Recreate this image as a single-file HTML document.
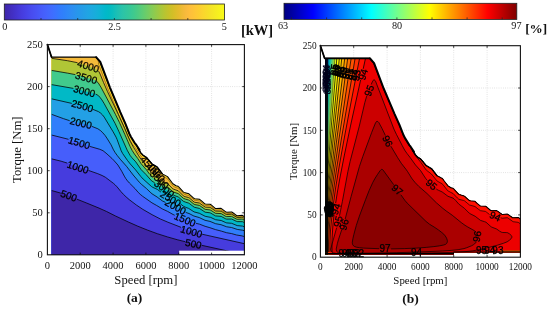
<!DOCTYPE html>
<html lang="en"><head><meta charset="utf-8"><title>Loss and efficiency maps</title>
<style>html,body{margin:0;padding:0;background:#fff}svg{display:block}</style></head>
<body>
<svg width="550" height="310" viewBox="0 0 550 310">
<defs>
<linearGradient id="gp" x1="0" x2="1" y1="0" y2="0"><stop offset="0.0000" stop-color="#3E26A8"/><stop offset="0.0159" stop-color="#402AB4"/><stop offset="0.0317" stop-color="#422EC0"/><stop offset="0.0476" stop-color="#4332CB"/><stop offset="0.0635" stop-color="#4537D5"/><stop offset="0.0794" stop-color="#463CDE"/><stop offset="0.0952" stop-color="#4741E5"/><stop offset="0.1111" stop-color="#4747EB"/><stop offset="0.1270" stop-color="#484DF0"/><stop offset="0.1429" stop-color="#4852F4"/><stop offset="0.1587" stop-color="#4758F8"/><stop offset="0.1746" stop-color="#465EFB"/><stop offset="0.1905" stop-color="#4563FD"/><stop offset="0.2063" stop-color="#4269FE"/><stop offset="0.2222" stop-color="#3E6FFF"/><stop offset="0.2381" stop-color="#3875FE"/><stop offset="0.2540" stop-color="#327CFC"/><stop offset="0.2698" stop-color="#2F81FA"/><stop offset="0.2857" stop-color="#2E87F7"/><stop offset="0.3016" stop-color="#2D8CF3"/><stop offset="0.3175" stop-color="#2B91EF"/><stop offset="0.3333" stop-color="#2797EB"/><stop offset="0.3492" stop-color="#259BE8"/><stop offset="0.3651" stop-color="#23A0E5"/><stop offset="0.3810" stop-color="#20A5E3"/><stop offset="0.3968" stop-color="#1CA9DF"/><stop offset="0.4127" stop-color="#18ADDB"/><stop offset="0.4286" stop-color="#12B1D6"/><stop offset="0.4444" stop-color="#08B5D0"/><stop offset="0.4603" stop-color="#01B8CA"/><stop offset="0.4762" stop-color="#02BAC3"/><stop offset="0.4921" stop-color="#0BBDBD"/><stop offset="0.5079" stop-color="#19BFB6"/><stop offset="0.5238" stop-color="#24C1AE"/><stop offset="0.5397" stop-color="#2CC4A7"/><stop offset="0.5556" stop-color="#31C69F"/><stop offset="0.5714" stop-color="#37C897"/><stop offset="0.5873" stop-color="#3FCA8E"/><stop offset="0.6032" stop-color="#4ACB84"/><stop offset="0.6190" stop-color="#57CC7A"/><stop offset="0.6349" stop-color="#64CD6F"/><stop offset="0.6508" stop-color="#72CD64"/><stop offset="0.6667" stop-color="#81CC59"/><stop offset="0.6825" stop-color="#8FCB4E"/><stop offset="0.6984" stop-color="#9DC943"/><stop offset="0.7143" stop-color="#ABC739"/><stop offset="0.7302" stop-color="#B9C431"/><stop offset="0.7460" stop-color="#C5C22A"/><stop offset="0.7619" stop-color="#D1BF27"/><stop offset="0.7778" stop-color="#DCBD29"/><stop offset="0.7937" stop-color="#E6BB2D"/><stop offset="0.8095" stop-color="#F0BA36"/><stop offset="0.8254" stop-color="#F8BA3D"/><stop offset="0.8413" stop-color="#FEBE3C"/><stop offset="0.8571" stop-color="#FEC338"/><stop offset="0.8730" stop-color="#FEC934"/><stop offset="0.8889" stop-color="#FCCF30"/><stop offset="0.9048" stop-color="#FAD62D"/><stop offset="0.9206" stop-color="#F7DC2A"/><stop offset="0.9365" stop-color="#F5E327"/><stop offset="0.9524" stop-color="#F5E924"/><stop offset="0.9683" stop-color="#F6EF20"/><stop offset="0.9841" stop-color="#F7F51B"/><stop offset="1.0000" stop-color="#F9FB15"/></linearGradient>
<linearGradient id="gj" x1="0" x2="1" y1="0" y2="0"><stop offset="0.0000" stop-color="#000080"/><stop offset="0.0312" stop-color="#00009F"/><stop offset="0.0625" stop-color="#0000BF"/><stop offset="0.0938" stop-color="#0000DF"/><stop offset="0.1250" stop-color="#0000FF"/><stop offset="0.1562" stop-color="#0020FF"/><stop offset="0.1875" stop-color="#0040FF"/><stop offset="0.2188" stop-color="#0060FF"/><stop offset="0.2500" stop-color="#0080FF"/><stop offset="0.2812" stop-color="#009FFF"/><stop offset="0.3125" stop-color="#00BFFF"/><stop offset="0.3438" stop-color="#00DFFF"/><stop offset="0.3750" stop-color="#00FFFF"/><stop offset="0.4062" stop-color="#20FFDF"/><stop offset="0.4375" stop-color="#40FFBF"/><stop offset="0.4688" stop-color="#60FF9F"/><stop offset="0.5000" stop-color="#80FF80"/><stop offset="0.5312" stop-color="#9FFF60"/><stop offset="0.5625" stop-color="#BFFF40"/><stop offset="0.5938" stop-color="#DFFF20"/><stop offset="0.6250" stop-color="#FFFF00"/><stop offset="0.6562" stop-color="#FFDF00"/><stop offset="0.6875" stop-color="#FFBF00"/><stop offset="0.7188" stop-color="#FF9F00"/><stop offset="0.7500" stop-color="#FF8000"/><stop offset="0.7812" stop-color="#FF6000"/><stop offset="0.8125" stop-color="#FF4000"/><stop offset="0.8438" stop-color="#FF2000"/><stop offset="0.8750" stop-color="#FF0000"/><stop offset="0.9062" stop-color="#DF0000"/><stop offset="0.9375" stop-color="#BF0000"/><stop offset="0.9688" stop-color="#9F0000"/><stop offset="1.0000" stop-color="#800000"/></linearGradient>
</defs>
<rect width="550" height="310" fill="#fff"/>
<rect x="4.3" y="4" width="220.2" height="16" fill="url(#gp)" stroke="#222" stroke-width="0.8"/>
<path d="M41.0 20 v-2" stroke="#222" stroke-width="0.7"/>
<path d="M77.7 20 v-2" stroke="#222" stroke-width="0.7"/>
<path d="M114.4 20 v-2" stroke="#222" stroke-width="0.7"/>
<path d="M151.1 20 v-2" stroke="#222" stroke-width="0.7"/>
<path d="M187.8 20 v-2" stroke="#222" stroke-width="0.7"/>
<rect x="284" y="3.3" width="232.8" height="16.1" fill="url(#gj)" stroke="#222" stroke-width="0.8"/>
<path d="M291.5 19.4 v-2" stroke="#222" stroke-width="0.7"/>
<path d="M326.6 19.4 v-2" stroke="#222" stroke-width="0.7"/>
<path d="M361.7 19.4 v-2" stroke="#222" stroke-width="0.7"/>
<path d="M396.9 19.4 v-2" stroke="#222" stroke-width="0.7"/>
<path d="M432.0 19.4 v-2" stroke="#222" stroke-width="0.7"/>
<path d="M467.1 19.4 v-2" stroke="#222" stroke-width="0.7"/>
<path d="M502.2 19.4 v-2" stroke="#222" stroke-width="0.7"/>
<g font-family="'Liberation Serif', serif" fill="#111">
<text x="4.8" y="30.4" font-size="10.2" text-anchor="middle">0</text>
<text x="114.5" y="30.4" font-size="10.2" text-anchor="middle">2.5</text>
<text x="224.3" y="30.4" font-size="10.2" text-anchor="middle">5</text>
<text x="257" y="35.3" font-size="14.5" font-weight="bold" text-anchor="middle">[kW]</text>
<text x="283" y="29.2" font-size="10.2" text-anchor="middle">63</text>
<text x="397" y="29.2" font-size="10.2" text-anchor="middle">80</text>
<text x="516.4" y="28.6" font-size="10.2" text-anchor="middle">97</text>
<text x="536.2" y="32.8" font-size="13.2" font-weight="bold" text-anchor="middle">[%]</text>
<text x="134.5" y="302.3" font-size="13.5" font-weight="bold" text-anchor="middle">(a)</text>
<text x="410.5" y="302.8" font-size="13.5" font-weight="bold" text-anchor="middle">(b)</text>
</g>
<g fill="none" stroke="#cfcfcf" stroke-width="0.7" stroke-dasharray="0.8 1.4">
<path d="M80.2 44.6 V254.8"/>
<path d="M113.1 44.6 V254.8"/>
<path d="M145.9 44.6 V254.8"/>
<path d="M178.7 44.6 V254.8"/>
<path d="M211.6 44.6 V254.8"/>
<path d="M47.4 212.8 H244.4"/>
<path d="M47.4 170.7 H244.4"/>
<path d="M47.4 128.7 H244.4"/>
<path d="M47.4 86.6 H244.4"/>
<path d="M353.7 45.7 V257.2"/>
<path d="M387.1 45.7 V257.2"/>
<path d="M420.4 45.7 V257.2"/>
<path d="M453.7 45.7 V257.2"/>
<path d="M487.1 45.7 V257.2"/>
<path d="M320.4 214.9 H520.4"/>
<path d="M320.4 172.6 H520.4"/>
<path d="M320.4 130.3 H520.4"/>
<path d="M320.4 88.0 H520.4"/>
</g>
<clipPath id="ca"><polygon points="51.5,57.1 51.5,57.1 52.3,57.1 53.1,57.1 53.9,57.1 54.7,57.1 55.5,57.1 56.3,57.1 57.1,57.1 57.9,57.1 58.7,57.1 59.5,57.1 60.3,57.1 61.1,57.1 61.9,57.1 62.7,57.1 63.5,57.1 64.3,57.1 65.1,57.1 65.9,57.1 66.7,57.1 67.5,57.1 68.3,57.1 69.1,57.1 69.9,57.1 70.7,57.1 71.5,57.1 72.3,57.1 73.2,57.1 74.0,57.1 74.8,57.1 75.6,57.1 76.4,57.1 77.2,57.1 78.0,57.1 78.8,57.1 79.6,57.1 80.4,57.1 81.2,57.1 82.0,57.1 82.8,57.1 83.6,57.1 84.4,57.1 85.2,57.1 86.0,57.1 86.8,57.1 87.6,57.1 88.4,57.1 89.2,57.1 90.0,57.1 90.8,57.1 91.6,57.1 92.4,57.1 93.2,57.1 94.0,57.1 94.8,57.1 95.6,57.1 96.1,57.7 96.7,58.3 97.2,59.0 97.7,59.6 98.2,60.2 98.8,60.8 99.3,61.4 99.8,62.0 100.1,62.8 100.4,63.5 100.7,64.3 101.0,65.1 101.3,65.9 101.5,66.6 101.8,67.4 102.1,68.2 102.4,68.9 102.7,69.7 103.0,70.5 103.3,71.2 103.6,72.0 103.9,72.8 104.2,73.5 104.5,74.3 104.7,75.1 105.0,75.9 105.3,76.6 105.6,77.4 105.9,78.2 106.2,78.9 106.5,79.7 106.8,80.5 107.1,81.2 107.4,82.0 107.7,82.8 108.0,83.5 108.2,84.3 108.5,85.1 108.8,85.9 109.1,86.6 109.4,87.4 109.7,88.1 110.0,88.9 110.3,89.6 110.7,90.4 111.0,91.1 111.3,91.8 111.6,92.6 111.9,93.3 112.2,94.1 112.5,94.8 112.9,95.5 113.2,96.3 113.5,97.0 113.8,97.8 114.1,98.5 114.4,99.2 114.7,100.0 115.1,100.7 115.4,101.5 115.7,102.2 116.0,102.9 116.3,103.7 116.6,104.4 116.9,105.2 117.2,105.9 117.6,106.6 117.9,107.4 118.2,108.1 118.5,108.9 118.8,109.6 119.1,110.3 119.4,111.1 119.8,112.1 120.1,112.8 120.4,113.5 120.7,114.2 121.0,114.9 121.3,115.6 121.6,116.4 122.0,117.1 122.3,117.8 122.6,118.5 122.9,119.2 123.2,119.9 123.5,120.6 123.9,121.3 124.2,122.0 124.5,122.7 124.8,123.4 125.1,124.2 125.4,125.0 125.7,125.7 126.1,126.5 126.4,127.3 126.7,128.1 127.0,128.9 127.3,129.7 127.6,130.5 127.9,131.3 128.3,132.1 128.6,132.9 128.9,133.7 129.3,134.5 129.7,135.2 130.1,136.0 130.4,136.7 130.8,137.4 131.2,138.0 131.6,138.7 132.0,139.3 132.4,139.9 132.8,140.6 133.2,141.2 133.5,141.8 133.9,142.5 134.3,143.1 134.7,143.7 135.2,144.2 135.7,144.8 136.2,145.6 136.7,146.3 137.1,147.1 137.6,147.8 138.1,148.6 138.6,149.3 139.1,150.1 139.6,150.9 140.1,151.6 140.6,152.4 141.0,153.1 141.5,153.7 142.0,154.2 142.5,154.7 143.0,155.2 143.6,155.6 144.2,156.0 144.9,156.4 145.5,156.8 146.1,157.2 146.7,157.8 147.3,158.5 147.9,159.3 148.6,160.0 149.2,160.8 149.8,161.5 150.4,162.3 151.0,163.1 151.7,163.8 152.3,164.2 152.9,164.5 153.5,164.9 154.2,165.3 154.8,165.6 155.4,166.0 156.0,166.4 156.7,166.7 157.3,167.3 157.9,168.1 158.6,168.9 159.2,169.7 159.8,170.5 160.4,171.3 161.0,172.1 161.6,172.9 162.2,173.7 162.8,174.1 163.4,174.4 164.0,174.7 164.6,175.0 165.2,175.3 165.7,175.7 166.3,176.0 166.9,176.3 167.5,176.6 168.1,177.3 168.7,178.1 169.3,178.9 169.9,179.7 170.5,180.5 171.1,181.3 171.7,182.1 172.3,182.9 172.9,183.7 173.5,184.2 174.1,184.5 174.8,184.9 175.4,185.3 176.0,185.7 176.7,185.9 177.4,186.1 178.0,186.3 178.7,186.9 179.4,187.6 180.1,188.3 180.7,189.1 181.4,189.8 182.1,190.6 182.8,191.3 183.5,192.1 184.1,192.4 184.8,192.6 185.5,192.8 186.2,193.0 186.9,193.2 187.5,193.4 188.2,193.6 188.9,193.8 189.6,194.4 190.3,195.1 191.0,195.7 191.8,196.4 192.5,197.0 193.2,197.7 193.9,198.3 194.6,198.7 195.3,198.8 196.1,198.8 196.8,198.9 197.5,199.0 198.2,199.1 198.9,199.2 199.6,199.3 200.4,199.9 201.1,200.6 201.8,201.2 202.6,201.9 203.3,202.5 204.1,203.1 204.8,203.8 205.6,203.9 206.4,204.0 207.1,204.0 207.9,204.0 208.6,204.1 209.4,204.1 210.1,204.2 210.9,204.7 211.7,205.3 212.4,206.0 213.2,206.6 213.9,207.3 214.7,207.9 215.5,208.5 216.2,208.6 217.0,208.5 217.7,208.5 218.5,208.4 219.3,208.4 220.0,208.4 220.8,208.3 221.5,208.7 222.3,209.3 223.1,209.9 223.8,210.4 224.6,211.0 225.3,211.5 226.1,212.1 226.8,212.2 227.6,212.2 228.4,212.1 229.1,212.1 229.9,212.0 230.7,212.0 231.4,211.9 232.2,212.3 232.9,212.8 233.7,213.4 234.5,213.9 235.2,214.5 236.0,215.0 236.8,215.6 237.5,215.7 238.3,215.6 239.1,215.6 239.8,215.5 240.6,215.5 241.3,215.4 242.1,215.3 242.9,215.7 243.6,216.3 244.4,216.8 244.4,254.8 51.5,254.8"/></clipPath>
<g clip-path="url(#ca)">
<rect x="40" y="40" width="215" height="220" fill="#FAD42E"/>
<polygon points="51.5,55.5 52.4,55.5 53.4,55.5 54.3,55.5 55.2,55.5 56.0,55.5 56.8,55.5 57.6,55.5 58.4,55.5 59.2,55.5 60.0,55.5 60.9,55.5 61.7,55.5 62.6,55.5 63.4,55.5 64.3,55.5 65.2,55.5 66.0,55.5 66.9,55.5 67.7,55.5 68.6,55.5 69.4,55.5 70.2,55.5 71.0,55.5 71.8,55.5 72.6,55.5 73.4,55.5 74.2,55.5 75.1,55.5 75.9,55.5 76.7,55.5 77.5,55.5 78.3,55.5 79.1,55.5 79.9,55.5 80.8,55.6 81.7,55.6 82.5,55.7 83.4,55.7 84.3,55.8 85.1,55.8 86.0,55.9 86.9,55.9 87.7,56.0 88.6,56.0 89.4,56.2 90.3,56.3 91.1,56.5 92.0,56.6 92.8,56.8 93.7,56.9 94.5,57.1 95.3,57.5 96.1,57.9 96.9,58.3 97.8,58.7 98.0,59.8 98.2,60.8 98.6,62.4 98.7,63.3 98.7,63.7 98.5,63.5 98.4,63.5 98.4,63.6 98.5,63.9 98.7,64.4 98.8,64.9 99.0,65.4 99.2,65.9 99.4,66.4 99.6,66.9 99.8,67.4 100.0,67.8 100.1,68.3 100.3,68.8 100.5,69.3 100.7,69.8 100.9,70.3 101.1,70.8 101.2,71.3 101.4,71.7 101.6,72.2 101.8,72.7 102.0,73.2 102.2,73.7 102.4,74.2 102.5,74.7 102.7,75.2 102.9,75.7 103.1,76.1 103.3,76.6 103.5,77.1 103.7,77.6 103.8,78.1 104.0,78.6 104.2,79.1 104.4,79.6 104.6,80.1 104.8,80.5 104.9,81.0 105.1,81.5 105.3,82.0 105.5,82.5 105.7,83.0 105.9,83.5 106.1,84.0 106.2,84.4 106.4,84.9 106.6,85.4 106.8,85.9 107.0,86.4 107.2,86.9 107.3,87.4 107.5,87.9 107.7,88.3 107.9,88.8 108.1,89.3 108.3,89.8 108.5,90.3 108.7,90.7 108.9,91.2 109.1,91.7 109.3,92.2 109.5,92.6 109.7,93.1 109.9,93.6 110.1,94.1 110.3,94.5 110.5,95.0 110.7,95.5 110.9,96.0 111.1,96.4 111.3,96.9 111.5,97.4 111.7,97.9 111.9,98.4 112.1,98.8 112.3,99.3 112.5,99.8 112.7,100.3 112.9,100.7 113.2,101.2 113.4,101.7 113.6,102.2 113.8,102.6 114.0,103.1 114.2,103.6 114.4,104.1 114.6,104.5 114.8,105.0 115.0,105.5 115.2,106.0 115.4,106.4 115.6,106.9 115.8,107.4 116.0,107.9 116.2,108.3 116.4,108.8 116.6,109.3 116.8,109.8 117.0,110.3 117.2,110.7 117.4,111.2 117.6,111.7 117.8,112.2 118.0,112.6 118.2,113.1 118.4,113.6 118.6,114.1 118.8,114.5 119.0,115.0 119.2,115.5 119.4,116.0 119.6,116.7 119.8,117.2 120.0,117.7 120.2,118.1 120.4,118.6 120.6,119.1 120.8,119.5 121.0,120.0 121.3,120.5 121.5,120.9 121.7,121.4 121.9,121.8 122.1,122.3 122.3,122.8 122.5,123.2 122.7,123.7 122.9,124.2 123.1,124.6 123.3,125.1 123.5,125.5 123.7,126.0 123.9,126.5 124.1,126.9 124.3,127.4 124.5,127.8 124.7,128.3 124.9,128.7 125.1,129.3 125.3,129.8 125.6,130.3 125.8,130.8 126.0,131.3 126.2,131.8 126.4,132.3 126.6,132.8 126.8,133.3 127.0,133.9 127.2,134.4 127.4,134.9 127.7,135.3 127.9,135.8 128.1,136.3 128.4,136.8 128.6,137.3 128.9,137.7 129.1,138.2 129.4,138.7 129.6,139.2 129.8,139.7 130.1,140.2 130.3,140.6 130.6,141.0 130.8,141.4 131.0,141.8 131.3,142.2 131.5,142.6 131.8,143.0 132.0,143.4 132.3,143.8 132.5,144.2 132.7,144.6 133.0,145.0 133.3,145.4 133.6,145.8 134.0,146.2 134.3,146.6 134.7,147.0 135.0,147.4 135.3,147.8 135.7,148.2 136.0,148.7 136.4,149.2 136.7,149.8 137.1,150.3 137.4,150.8 137.8,151.4 138.1,151.9 138.5,152.4 138.8,153.0 139.1,153.5 139.5,154.0 139.8,154.6 140.2,155.1 140.5,155.7 140.9,156.2 141.2,156.6 141.6,156.9 142.0,157.2 142.4,157.5 142.8,157.8 143.3,158.1 143.7,158.3 144.1,158.6 144.5,158.9 144.9,159.1 145.3,159.4 145.7,159.7 146.1,159.9 146.6,160.3 147.0,160.8 147.4,161.3 147.8,161.8 148.3,162.2 148.7,162.7 149.2,163.1 149.7,163.6 150.1,164.1 150.6,164.6 151.0,165.1 151.4,165.6 151.8,166.0 152.2,166.2 152.6,166.5 153.0,166.7 153.4,166.9 153.8,167.2 154.2,167.4 154.6,167.7 155.0,167.9 155.4,168.1 155.8,168.4 156.1,168.6 156.5,168.8 156.9,169.0 157.3,169.5 157.7,170.0 158.1,170.5 158.5,171.0 158.9,171.6 159.4,172.1 159.8,172.6 160.2,173.1 160.6,173.7 161.0,174.2 161.4,174.7 161.8,175.3 162.2,175.8 162.6,176.1 163.0,176.3 163.4,176.5 163.9,176.8 164.3,177.0 164.7,177.2 165.1,177.5 165.5,177.7 165.9,177.9 166.3,178.1 166.7,178.4 167.1,178.6 167.5,178.8 167.9,179.3 168.4,179.8 168.8,180.4 169.2,180.9 169.6,181.4 170.0,182.0 170.4,182.5 170.8,183.1 171.3,183.7 171.7,184.3 172.2,184.9 172.6,185.6 173.1,186.1 173.6,186.4 174.0,186.7 174.5,187.0 174.9,187.2 175.4,187.4 175.9,187.5 176.3,187.7 176.8,187.8 177.2,188.0 177.7,188.1 178.2,188.3 178.6,188.7 179.1,189.2 179.6,189.7 180.0,190.2 180.5,190.7 180.9,191.1 181.4,191.6 181.9,192.1 182.3,192.6 182.8,193.1 183.2,193.6 183.7,194.0 184.2,194.2 184.6,194.3 185.1,194.5 185.5,194.6 186.0,194.8 186.5,194.9 186.9,195.1 187.4,195.2 187.8,195.3 188.3,195.4 188.8,195.5 189.2,195.7 189.7,196.1 190.1,196.5 190.6,197.0 191.1,197.4 191.5,197.8 192.0,198.2 192.5,198.6 192.9,199.0 193.4,199.4 193.8,199.8 194.3,200.2 194.8,200.3 195.2,200.3 195.7,200.4 196.1,200.4 196.6,200.5 197.1,200.6 197.5,200.6 198.0,200.7 198.4,200.8 198.9,200.8 199.4,200.9 199.8,201.1 200.3,201.5 200.7,201.9 201.2,202.3 201.7,202.7 202.1,203.0 202.6,203.4 203.1,203.8 203.5,204.2 204.0,204.6 204.4,204.9 204.9,205.3 205.4,205.4 205.8,205.4 206.3,205.5 206.7,205.5 207.2,205.5 207.7,205.6 208.1,205.6 208.6,205.6 209.0,205.7 209.5,205.7 210.0,205.7 210.4,205.9 210.9,206.3 211.3,206.6 211.8,207.0 212.3,207.4 212.7,207.8 213.2,208.2 213.7,208.5 214.2,208.9 214.8,209.3 215.3,209.7 215.8,209.9 216.4,209.9 216.9,209.9 217.5,209.9 218.0,209.9 218.5,209.8 219.1,209.8 219.6,209.8 220.1,209.8 220.7,209.8 221.2,210.0 221.8,210.3 222.3,210.7 222.8,211.1 223.4,211.5 223.9,211.9 224.4,212.3 225.0,212.7 225.5,213.1 226.1,213.4 226.6,213.6 227.1,213.6 227.6,213.5 228.2,213.5 228.7,213.5 229.2,213.5 229.7,213.4 230.3,213.4 230.8,213.4 231.3,213.3 231.8,213.5 232.4,213.8 232.9,214.2 233.4,214.6 233.9,214.9 234.5,215.3 235.0,215.7 235.5,216.0 236.0,216.4 236.6,216.8 237.1,217.0 237.6,217.0 238.1,217.0 238.7,216.9 239.2,216.9 239.7,216.9 240.2,216.9 240.8,216.8 241.3,216.8 241.8,216.8 242.3,216.8 242.7,217.0 243.0,217.2 243.1,217.3 246.4,217.3 246.4,256.8 49.5,256.8 49.5,55.5" fill="#F5BA3A"/>
<polygon points="51.5,58.3 52.3,58.4 53.1,58.5 53.9,58.7 54.7,58.8 55.5,58.9 56.3,59.0 57.1,59.2 57.9,59.3 58.6,59.4 59.4,59.5 60.2,59.6 61.0,59.8 61.8,59.9 62.6,60.0 63.4,60.1 64.2,60.2 65.0,60.4 65.8,60.5 66.6,60.6 67.4,60.7 68.3,60.9 69.2,61.1 70.1,61.2 71.0,61.4 71.9,61.6 72.9,61.7 73.8,61.9 74.7,62.1 75.6,62.3 76.5,62.5 77.5,62.7 78.4,62.9 79.3,63.2 80.2,63.4 81.2,63.7 82.1,64.0 83.1,64.3 84.0,64.6 84.9,65.0 85.8,65.3 86.7,65.6 87.6,65.9 88.5,66.2 89.3,66.5 90.2,66.8 91.0,67.0 91.8,67.3 92.6,67.6 93.4,67.9 94.2,68.2 95.1,68.6 96.1,69.1 96.8,69.6 97.6,70.1 98.6,71.1 99.3,72.3 99.7,73.1 100.1,74.0 100.4,74.7 100.7,75.5 101.0,76.2 101.4,77.2 101.8,78.1 102.2,79.0 102.5,79.9 102.8,80.7 103.2,81.5 103.5,82.4 103.9,83.2 104.2,84.0 104.6,84.9 104.9,85.7 105.3,86.6 105.7,87.4 106.0,88.2 106.4,89.1 106.8,89.9 107.2,90.7 107.5,91.6 107.9,92.3 108.2,93.0 108.6,93.7 108.9,94.5 109.2,95.2 109.6,95.9 109.9,96.6 110.3,97.4 110.6,98.1 111.0,98.9 111.3,99.6 111.7,100.3 112.0,101.1 112.4,101.8 112.7,102.5 113.1,103.3 113.4,104.0 113.8,104.8 114.2,105.6 114.6,106.4 115.0,107.2 115.3,108.0 115.7,108.8 116.1,109.6 116.5,110.4 116.8,111.2 117.2,111.9 117.5,112.7 117.9,113.5 118.2,114.2 118.7,115.1 119.1,116.0 119.5,116.9 119.9,118.0 120.3,118.8 120.6,119.6 121.0,120.4 121.4,121.1 121.7,121.9 122.1,122.6 122.4,123.4 122.7,124.1 123.1,124.8 123.4,125.5 123.7,126.2 124.1,126.9 124.5,127.8 124.8,128.6 125.2,129.5 125.6,130.4 126.0,131.3 126.4,132.2 126.7,133.1 127.1,133.9 127.5,134.8 127.8,135.7 128.2,136.6 128.5,137.4 128.9,138.1 129.2,138.9 129.5,139.7 129.9,140.5 130.2,141.3 130.6,142.0 130.9,142.7 131.3,143.4 131.7,144.1 132.0,144.8 132.4,145.5 132.9,146.2 133.3,146.9 133.7,147.6 134.2,148.4 134.6,149.1 135.1,149.9 135.6,150.5 136.0,151.3 136.4,152.1 137.0,153.1 137.6,154.1 138.2,154.9 138.7,155.8 139.6,157.1 140.1,157.9 140.7,158.7 141.3,159.6 141.9,160.3 142.6,161.1 143.2,162.0 143.8,162.6 144.2,163.2 144.8,163.9 145.3,164.5 145.9,165.1 146.4,165.8 147.0,166.7 147.6,167.6 148.2,168.5 148.9,169.5 149.5,170.4 150.2,171.4 150.9,172.4 151.6,173.4 152.3,174.0 153.1,174.5 153.8,175.0 154.6,175.5 155.4,176.0 156.2,176.4 157.0,176.8 157.9,177.7 158.8,178.6 159.6,179.4 160.5,180.3 161.5,181.1 162.4,181.9 163.3,182.2 164.1,182.4 165.0,182.7 165.9,182.9 166.7,183.2 167.6,183.5 168.4,184.3 169.2,185.1 170.1,185.9 170.9,186.8 171.6,187.6 172.4,188.4 173.1,189.0 173.8,189.2 174.5,189.5 175.2,189.7 176.0,190.0 176.8,190.3 177.5,190.5 178.3,190.8 179.0,191.5 179.7,192.2 180.4,192.9 181.1,193.6 181.8,194.3 182.6,195.1 183.4,195.9 184.1,196.3 184.9,196.5 185.7,196.8 186.4,197.0 187.1,197.1 187.9,197.3 188.6,197.5 189.3,197.9 190.0,198.6 190.8,199.3 191.7,200.0 192.5,200.7 193.3,201.4 194.1,202.0 194.9,202.3 195.6,202.4 196.4,202.5 197.2,202.6 197.9,202.7 198.7,202.9 199.4,203.0 200.2,203.4 201.0,204.1 201.9,204.7 202.7,205.4 203.5,206.0 204.3,206.6 205.2,207.1 206.0,207.2 206.8,207.2 207.6,207.3 208.3,207.3 209.1,207.3 209.9,207.4 210.7,207.7 211.4,208.2 212.2,208.8 213.0,209.3 213.9,209.9 214.7,210.5 215.5,211.0 216.3,211.1 217.2,211.1 218.0,211.1 218.8,211.1 219.6,211.1 220.4,211.1 221.2,211.2 221.9,211.7 222.7,212.2 223.5,212.7 224.3,213.2 225.1,213.7 225.8,214.2 226.7,214.5 227.5,214.4 228.3,214.4 229.1,214.3 230.0,214.3 230.8,214.2 231.6,214.2 232.4,214.7 233.3,215.2 234.1,215.7 234.9,216.1 235.6,216.6 236.4,217.1 237.2,217.4 238.0,217.4 238.8,217.3 239.8,217.3 240.7,217.2 241.6,217.2 242.5,217.3 243.5,217.8 244.4,218.4 246.4,218.4 246.4,256.8 49.5,256.8 49.5,58.3" fill="#B0C636"/>
<polygon points="51.5,70.4 52.3,70.5 53.1,70.7 53.9,70.8 54.7,70.9 55.5,71.1 56.3,71.2 57.1,71.3 57.9,71.5 58.6,71.6 59.4,71.7 60.2,71.9 61.0,72.0 61.8,72.1 62.6,72.3 63.4,72.4 64.2,72.6 65.0,72.7 65.8,72.8 66.6,73.0 67.4,73.1 68.3,73.3 69.2,73.4 70.1,73.6 70.9,73.8 71.8,73.9 72.7,74.1 73.6,74.3 74.5,74.5 75.3,74.6 76.2,74.8 77.1,75.0 77.9,75.2 78.8,75.4 79.6,75.7 80.4,75.9 81.2,76.1 82.0,76.4 82.8,76.6 83.6,76.9 84.4,77.1 85.2,77.4 86.0,77.6 86.8,77.9 87.6,78.1 88.5,78.3 89.3,78.5 90.2,78.8 91.0,79.0 91.9,79.2 92.7,79.4 93.8,79.8 94.9,80.3 95.8,80.8 96.6,81.3 97.3,81.9 98.0,82.5 98.4,83.2 98.9,83.9 99.7,85.1 100.3,86.2 100.9,87.1 101.2,87.7 101.8,88.8 102.4,89.8 102.8,90.7 103.3,91.6 103.8,92.5 104.2,93.3 104.7,94.2 105.1,95.0 105.5,95.8 106.0,96.6 106.4,97.4 106.9,98.2 107.3,99.0 107.7,99.8 108.1,100.6 108.5,101.4 109.0,102.2 109.4,103.0 109.8,103.8 110.2,104.6 110.6,105.3 111.0,106.1 111.5,106.8 111.9,107.6 112.3,108.4 112.7,109.1 113.1,109.9 113.5,110.6 113.8,111.4 114.2,112.1 114.6,112.8 115.0,113.6 115.4,114.3 115.8,115.2 116.3,116.0 116.7,116.9 117.1,117.8 117.5,118.6 118.0,119.4 118.4,120.2 118.7,121.0 119.1,121.8 119.5,122.6 119.8,123.6 120.2,124.3 120.5,125.0 120.8,125.7 121.2,126.5 121.5,127.2 121.9,128.0 122.3,128.9 122.7,129.7 123.1,130.5 123.5,131.4 123.8,132.2 124.2,133.0 124.6,133.8 124.9,134.6 125.3,135.4 125.6,136.3 126.0,137.2 126.4,138.1 126.8,139.0 127.2,140.0 127.6,140.9 127.9,141.7 128.3,142.5 128.6,143.3 129.0,144.0 129.3,144.8 129.7,145.7 130.1,146.5 130.4,147.3 130.8,148.0 131.2,148.8 131.7,149.6 132.1,150.4 132.5,151.0 132.9,151.7 133.3,152.4 133.9,153.2 134.4,154.0 135.0,154.7 135.5,155.4 136.5,156.7 137.1,157.6 137.7,158.4 138.3,159.4 139.0,160.5 139.5,161.3 140.0,162.1 140.6,162.9 141.1,163.7 141.7,164.4 142.2,165.1 142.9,165.8 143.5,166.5 144.1,167.2 144.7,167.9 145.4,168.6 146.0,169.3 146.5,169.9 147.0,170.6 147.5,171.3 148.1,172.1 148.6,172.8 149.2,173.5 149.7,174.3 150.2,175.1 150.8,175.8 151.4,176.5 152.0,177.1 152.6,177.5 153.2,177.9 153.8,178.3 154.4,178.7 155.0,179.1 155.7,179.4 156.3,179.7 157.0,180.1 157.6,180.8 158.3,181.4 159.0,182.1 159.7,182.7 160.4,183.4 161.1,184.1 161.8,184.8 162.5,185.3 163.2,185.6 163.9,185.8 164.6,186.1 165.3,186.3 166.0,186.5 166.7,186.8 167.4,187.0 168.1,187.5 168.8,188.2 169.5,188.8 170.2,189.5 171.0,190.1 171.7,190.8 172.5,191.5 173.2,192.0 174.0,192.3 174.8,192.5 175.7,192.8 176.5,193.1 177.3,193.3 178.2,193.6 178.9,194.2 179.6,194.9 180.4,195.6 181.1,196.2 181.8,196.9 182.6,197.6 183.4,198.3 184.1,198.7 184.9,199.0 185.7,199.2 186.4,199.4 187.1,199.6 187.9,199.8 188.6,200.0 189.3,200.4 190.0,201.0 190.8,201.7 191.7,202.4 192.5,203.0 193.3,203.7 194.1,204.3 194.9,204.6 195.6,204.8 196.4,204.9 197.2,205.0 197.9,205.2 198.7,205.3 199.4,205.4 200.2,205.9 201.0,206.5 201.9,207.1 202.7,207.7 203.5,208.3 204.3,209.0 205.2,209.4 206.0,209.6 206.8,209.6 207.6,209.7 208.3,209.8 209.1,209.8 209.9,209.9 210.7,210.2 211.4,210.7 212.2,211.2 213.0,211.8 213.9,212.3 214.7,212.8 215.5,213.3 216.3,213.4 217.2,213.5 218.0,213.5 218.8,213.5 219.6,213.5 220.4,213.5 221.2,213.6 221.9,214.1 222.7,214.5 223.5,215.0 224.3,215.5 225.1,215.9 225.8,216.4 226.7,216.6 227.5,216.6 228.3,216.5 229.1,216.5 230.0,216.5 230.8,216.4 231.6,216.4 232.4,216.8 233.3,217.3 234.1,217.7 234.9,218.2 235.6,218.6 236.4,219.0 237.2,219.3 238.0,219.3 238.8,219.2 239.8,219.2 240.7,219.1 241.6,219.1 242.5,219.2 243.5,219.7 244.4,220.2 246.4,220.2 246.4,256.8 49.5,256.8 49.5,70.4" fill="#41CA8C"/>
<polygon points="51.5,84.6 53.0,84.8 53.9,85.0 54.9,85.2 55.8,85.3 56.7,85.5 57.6,85.6 58.5,85.8 59.3,85.9 60.2,86.1 61.0,86.2 61.9,86.3 62.7,86.5 63.5,86.6 64.3,86.8 65.2,86.9 66.0,87.0 66.8,87.2 67.7,87.3 68.5,87.5 69.3,87.6 70.1,87.8 71.0,87.9 71.8,88.1 72.6,88.3 73.4,88.4 74.2,88.6 75.1,88.7 75.9,88.9 76.7,89.1 77.5,89.3 78.3,89.5 79.1,89.7 80.0,89.9 80.8,90.1 81.6,90.3 82.4,90.6 83.3,90.8 84.1,91.0 85.0,91.2 85.8,91.4 86.7,91.6 87.6,91.9 88.5,92.1 89.4,92.3 90.3,92.5 91.2,92.7 92.0,93.0 92.8,93.2 93.6,93.4 94.6,93.8 95.6,94.1 96.4,94.5 97.2,94.9 98.5,95.7 99.3,96.5 100.0,97.4 100.6,98.2 101.3,99.1 101.9,99.9 102.3,100.6 102.7,101.3 103.1,102.0 103.5,102.6 104.0,103.3 104.4,104.0 104.8,104.7 105.2,105.4 105.5,106.2 105.9,106.9 106.3,107.6 106.8,108.4 107.2,109.1 107.6,109.9 108.0,110.7 108.5,111.4 109.0,112.3 109.4,113.1 109.9,114.0 110.4,114.8 110.8,115.5 111.2,116.3 111.6,117.0 112.0,117.8 112.5,118.6 113.0,119.4 113.5,120.2 113.9,121.0 114.3,121.8 114.7,122.6 115.1,123.4 115.4,124.1 115.8,124.9 116.2,125.6 116.5,126.4 116.9,127.1 117.2,127.9 117.6,128.6 117.9,129.3 118.2,130.0 118.6,130.8 118.9,131.5 119.3,132.3 119.6,133.3 120.0,134.1 120.4,135.0 120.7,135.8 121.1,136.6 121.5,137.4 121.9,138.3 122.3,139.1 122.6,140.0 123.0,140.8 123.4,141.5 123.7,142.3 124.0,143.0 124.4,143.7 124.7,144.4 125.0,145.2 125.4,146.0 125.7,146.8 126.1,147.6 126.5,148.5 126.8,149.3 127.2,150.2 127.7,151.1 128.1,152.0 128.6,152.8 129.1,153.7 129.6,154.6 130.1,155.4 130.7,156.2 131.3,157.0 131.9,157.7 132.6,158.4 133.3,159.2 134.0,159.9 134.6,160.5 135.2,161.2 135.8,161.9 136.3,162.6 136.8,163.3 137.3,164.0 138.0,165.0 138.6,166.0 139.2,166.8 139.8,167.7 140.2,168.4 140.7,169.1 141.2,169.7 141.9,170.4 142.5,171.0 143.1,171.7 143.7,172.2 144.2,172.8 144.8,173.3 145.4,173.8 146.0,174.5 146.7,175.2 147.4,176.0 148.0,176.9 148.7,177.7 149.4,178.5 150.1,179.3 150.8,180.1 151.6,180.9 152.3,181.4 153.0,181.8 153.8,182.3 154.6,182.7 155.3,183.1 156.1,183.5 156.9,183.9 157.7,184.5 158.5,185.2 159.3,185.9 160.1,186.6 160.9,187.3 161.7,187.9 162.5,188.5 163.2,188.8 164.0,189.1 164.8,189.4 165.5,189.7 166.2,189.9 167.0,190.2 167.7,190.5 168.4,191.1 169.1,191.7 169.8,192.3 170.5,192.9 171.2,193.5 171.9,194.1 172.6,194.7 173.4,195.2 174.1,195.4 174.9,195.7 175.7,196.0 176.6,196.3 177.4,196.6 178.2,196.9 178.9,197.5 179.7,198.1 180.4,198.7 181.1,199.3 181.8,199.9 182.6,200.6 183.4,201.3 184.1,201.7 184.9,201.9 185.7,202.2 186.4,202.4 187.1,202.7 187.9,202.9 188.6,203.1 189.3,203.5 190.0,204.1 190.8,204.7 191.7,205.3 192.5,205.9 193.3,206.5 194.1,207.1 194.9,207.4 195.6,207.6 196.4,207.8 197.2,207.9 197.9,208.1 198.7,208.3 199.4,208.4 200.2,208.9 201.0,209.4 201.9,210.0 202.7,210.6 203.5,211.1 204.3,211.7 205.2,212.2 206.0,212.3 206.8,212.4 207.6,212.5 208.3,212.6 209.1,212.7 209.9,212.8 210.7,213.1 211.4,213.6 212.2,214.1 213.0,214.5 213.9,215.0 214.7,215.5 215.5,215.9 216.3,216.1 217.2,216.1 218.0,216.2 218.8,216.3 219.6,216.3 220.4,216.3 221.2,216.4 221.9,216.8 222.7,217.2 223.5,217.6 224.3,218.1 225.1,218.5 225.8,218.9 226.7,219.1 227.5,219.1 228.3,219.1 229.1,219.1 230.0,219.1 230.8,219.0 231.6,219.0 232.4,219.4 233.3,219.8 234.1,220.2 234.9,220.6 235.6,221.0 236.4,221.3 237.2,221.6 238.0,221.6 238.8,221.6 239.8,221.6 240.7,221.6 241.6,221.6 242.5,221.7 243.5,222.1 244.4,222.6 246.4,222.6 246.4,256.8 49.5,256.8 49.5,84.6" fill="#01B9C6"/>
<polygon points="51.5,98.8 52.8,99.1 53.6,99.3 54.5,99.5 55.4,99.7 56.3,99.9 57.3,100.1 58.3,100.3 59.2,100.5 60.1,100.7 60.9,100.9 61.8,101.1 62.7,101.3 63.5,101.5 64.4,101.7 65.3,101.9 66.2,102.1 67.1,102.3 68.0,102.5 68.9,102.7 69.8,102.9 70.8,103.1 71.8,103.4 72.7,103.6 73.5,103.8 74.4,104.0 75.2,104.1 76.0,104.3 76.8,104.5 77.7,104.8 78.5,105.0 79.4,105.2 80.3,105.4 81.1,105.6 82.0,105.9 82.8,106.1 83.7,106.4 84.5,106.6 85.4,106.9 86.3,107.1 87.1,107.4 88.0,107.7 88.8,108.0 89.7,108.2 90.5,108.5 91.3,108.8 92.1,109.1 93.0,109.4 93.8,109.7 94.5,110.0 95.3,110.3 96.1,110.6 96.9,110.9 97.6,111.3 98.4,111.6 99.1,112.0 99.8,112.5 100.5,113.0 101.1,113.6 101.8,114.2 102.4,114.8 103.0,115.6 103.6,116.4 104.2,117.1 104.7,118.0 105.3,119.0 105.8,119.9 106.2,120.6 106.6,121.3 107.1,122.0 107.5,122.7 107.9,123.5 108.4,124.2 108.8,124.9 109.3,125.7 109.7,126.4 110.2,127.2 110.7,127.9 111.1,128.7 111.6,129.5 112.1,130.2 112.6,131.0 113.1,131.8 113.5,132.5 113.9,133.2 114.3,133.9 114.7,134.7 115.2,135.5 115.6,136.4 116.1,137.2 116.4,138.0 116.8,138.7 117.1,139.5 117.5,140.5 117.9,141.5 118.3,142.6 118.7,143.6 119.1,144.8 119.5,145.9 119.8,146.8 120.0,147.6 120.3,148.3 120.6,149.2 120.9,150.0 121.2,150.8 121.6,151.5 121.9,152.2 122.3,152.9 122.7,153.6 123.2,154.4 123.7,155.2 124.2,156.0 124.8,156.7 125.3,157.5 125.9,158.2 126.4,159.0 126.9,159.7 127.5,160.5 128.0,161.2 128.6,161.9 129.2,162.6 129.7,163.3 130.3,164.0 130.8,164.7 131.4,165.3 131.9,165.9 132.4,166.5 133.0,167.1 133.5,167.7 134.0,168.2 134.6,168.8 135.1,169.4 135.6,169.9 136.1,170.6 136.6,171.3 137.2,171.9 137.8,172.7 138.4,173.5 139.0,174.2 139.6,175.0 140.2,175.8 140.8,176.5 141.4,177.2 141.9,177.8 142.5,178.4 143.1,179.0 143.7,179.5 144.4,180.1 145.0,180.6 145.6,181.2 146.2,181.7 146.9,182.3 147.5,182.9 148.2,183.6 148.8,184.2 149.5,184.8 150.2,185.4 150.9,186.0 151.6,186.6 152.2,187.0 152.9,187.4 153.7,187.7 154.4,188.0 155.1,188.3 155.8,188.7 156.6,189.0 157.3,189.4 158.0,189.9 158.7,190.5 159.4,191.0 160.2,191.5 160.9,192.1 161.6,192.7 162.3,193.2 163.0,193.5 163.7,193.8 164.4,194.1 165.1,194.5 165.8,194.8 166.5,195.1 167.2,195.4 167.9,195.8 168.7,196.4 169.3,197.0 170.1,197.5 170.8,198.1 171.5,198.6 172.2,199.2 172.9,199.8 173.6,200.1 174.3,200.5 175.1,200.8 175.8,201.1 176.6,201.5 177.3,201.8 178.0,202.1 178.8,202.6 179.5,203.2 180.3,203.8 181.1,204.4 181.8,205.0 182.6,205.6 183.4,206.2 184.1,206.6 184.9,207.0 185.7,207.3 186.4,207.6 187.1,207.9 187.9,208.1 188.6,208.4 189.3,208.8 190.0,209.3 190.8,209.8 191.7,210.3 192.5,210.8 193.3,211.3 194.1,211.9 194.9,212.2 195.6,212.4 196.4,212.5 197.2,212.7 197.9,212.9 198.7,213.1 199.4,213.3 200.2,213.7 201.0,214.1 201.9,214.6 202.7,215.0 203.5,215.5 204.3,215.9 205.2,216.3 206.0,216.4 206.8,216.6 207.6,216.7 208.3,216.8 209.1,217.0 209.9,217.1 210.7,217.4 211.4,217.7 212.2,218.1 213.0,218.5 213.9,218.9 214.7,219.3 215.5,219.7 216.3,219.9 217.2,220.0 218.0,220.1 218.8,220.2 219.6,220.3 220.4,220.4 221.2,220.5 221.9,220.9 222.7,221.2 223.5,221.6 224.3,221.9 225.1,222.3 225.8,222.6 226.7,222.9 227.5,222.9 228.3,223.0 229.1,223.1 230.0,223.1 230.8,223.2 231.6,223.3 232.4,223.6 233.3,224.0 234.1,224.3 234.9,224.6 235.6,225.0 236.4,225.3 237.2,225.6 238.0,225.6 238.8,225.7 239.8,225.8 240.7,225.9 241.6,226.0 242.5,226.1 243.5,226.5 244.4,226.9 246.4,226.9 246.4,256.8 49.5,256.8 49.5,98.8" fill="#23A0E5"/>
<polygon points="51.5,114.3 52.7,114.7 53.5,115.0 54.3,115.3 55.1,115.6 56.0,116.0 56.9,116.3 57.8,116.6 58.7,117.0 59.5,117.3 60.3,117.6 61.2,117.8 62.0,118.1 62.8,118.4 63.6,118.7 64.4,119.0 65.3,119.3 66.1,119.6 67.0,119.9 67.8,120.2 68.7,120.5 69.7,120.7 70.6,121.0 71.5,121.3 72.3,121.5 73.1,121.7 73.8,121.9 74.6,122.1 75.5,122.2 76.3,122.4 77.2,122.5 78.0,122.7 78.9,122.9 79.7,123.0 80.6,123.2 81.5,123.4 82.3,123.6 83.2,123.8 84.1,124.0 84.9,124.3 85.8,124.5 86.7,124.7 87.6,124.9 88.4,125.2 89.3,125.5 90.2,125.8 91.0,126.1 91.9,126.4 92.8,126.7 93.6,127.0 94.5,127.3 95.4,127.7 96.2,128.1 97.1,128.4 97.9,128.8 98.8,129.4 99.6,129.9 100.4,130.5 101.0,131.1 101.6,131.6 102.2,132.2 102.8,132.8 103.4,133.5 104.0,134.2 104.6,134.9 105.2,135.6 105.6,136.2 106.1,136.9 106.5,137.6 107.0,138.3 107.4,138.9 107.9,139.7 108.4,140.5 108.9,141.3 109.4,142.1 109.8,142.8 110.2,143.5 110.6,144.2 111.1,144.9 111.5,145.8 112.0,146.7 112.5,147.6 112.8,148.4 113.2,149.1 113.5,149.9 114.1,150.8 114.7,151.8 115.2,152.7 115.8,153.4 116.3,154.2 116.9,155.0 117.4,155.7 118.0,156.4 118.6,157.1 119.1,157.8 119.7,158.5 120.2,159.2 120.8,159.8 121.3,160.4 121.9,161.0 122.5,161.6 123.0,162.2 123.6,162.8 124.2,163.5 124.8,164.2 125.4,164.9 126.0,165.6 126.5,166.3 127.1,167.0 127.6,167.6 128.1,168.3 128.6,168.9 129.1,169.6 129.7,170.4 130.3,171.1 130.8,171.8 131.4,172.5 131.8,173.2 132.3,173.8 132.8,174.4 133.2,175.0 133.9,175.8 134.5,176.6 135.1,177.4 135.8,178.2 136.5,179.0 137.1,179.8 137.8,180.6 138.5,181.3 139.2,182.1 139.9,182.8 140.6,183.6 141.3,184.2 142.0,184.8 142.7,185.5 143.5,186.1 144.2,186.7 144.9,187.3 145.6,187.9 146.4,188.5 147.1,189.2 147.8,190.0 148.6,190.7 149.3,191.4 150.1,192.1 150.7,192.7 151.3,193.3 152.0,193.8 152.6,194.2 153.3,194.7 154.1,195.2 154.8,195.6 155.5,196.1 156.3,196.5 157.1,197.0 157.9,197.7 158.7,198.3 159.4,198.8 160.1,199.3 160.9,199.9 161.6,200.4 162.3,200.9 163.1,201.3 163.9,201.7 164.7,202.0 165.5,202.4 166.3,202.8 167.0,203.1 167.7,203.4 168.5,203.9 169.2,204.4 170.0,204.9 170.7,205.4 171.5,205.9 172.3,206.4 173.1,206.8 174.0,207.1 174.8,207.4 175.6,207.8 176.3,208.0 177.1,208.3 177.9,208.6 178.6,208.9 179.4,209.4 180.2,209.8 180.9,210.2 181.7,210.7 182.5,211.1 183.3,211.6 184.1,211.9 184.9,212.2 185.7,212.4 186.5,212.7 187.4,213.0 188.2,213.2 189.0,213.5 189.9,213.9 190.7,214.4 191.6,214.8 192.4,215.3 193.2,215.7 193.9,216.0 194.7,216.3 195.5,216.6 196.3,216.8 197.0,217.0 197.8,217.2 198.6,217.4 199.4,217.6 200.2,218.0 201.0,218.4 201.8,218.7 202.6,219.1 203.4,219.5 204.2,219.9 205.0,220.3 205.9,220.5 206.7,220.7 207.5,220.9 208.4,221.0 209.2,221.2 210.0,221.4 210.9,221.7 211.7,222.1 212.5,222.4 213.3,222.8 214.0,223.1 214.8,223.4 215.6,223.7 216.3,223.9 217.1,224.0 217.9,224.2 218.7,224.3 219.5,224.5 220.3,224.6 221.0,224.7 221.8,225.0 222.6,225.4 223.4,225.7 224.2,226.0 225.0,226.3 225.8,226.6 226.7,226.8 227.5,226.9 228.3,227.0 229.1,227.1 230.0,227.2 230.8,227.3 231.6,227.5 232.4,227.7 233.3,228.0 234.1,228.3 234.9,228.6 235.6,228.9 236.4,229.2 237.2,229.4 238.0,229.5 238.8,229.6 239.8,229.7 240.7,229.9 241.6,230.0 242.5,230.2 243.5,230.5 244.4,230.8 246.4,230.8 246.4,256.8 49.5,256.8 49.5,114.3" fill="#317EFB"/>
<polygon points="51.5,135.0 52.6,135.3 53.8,135.6 54.9,135.8 55.7,136.1 56.6,136.3 57.4,136.5 58.2,136.7 59.1,136.9 60.0,137.1 61.0,137.4 61.9,137.6 62.8,137.8 63.5,138.0 64.3,138.2 65.1,138.4 65.9,138.6 66.7,138.9 67.6,139.1 68.5,139.3 69.3,139.6 70.2,139.8 71.2,140.1 72.2,140.4 73.1,140.7 73.9,141.0 74.8,141.2 75.6,141.5 76.4,141.8 77.2,142.1 78.1,142.3 78.9,142.6 79.8,142.9 80.7,143.2 81.5,143.5 82.4,143.9 83.3,144.2 84.2,144.5 85.2,144.8 86.1,145.1 87.0,145.4 87.9,145.8 88.9,146.1 89.8,146.4 90.7,146.7 91.7,147.0 92.6,147.2 93.6,147.5 94.5,147.8 95.5,148.1 96.5,148.3 97.5,148.6 98.2,148.8 99.0,149.1 99.8,149.3 100.7,149.7 101.7,150.1 103.0,150.7 103.8,151.3 104.4,151.8 105.1,152.4 106.0,153.1 106.9,153.9 107.6,154.6 108.4,155.3 109.1,155.9 109.8,156.6 110.5,157.2 111.2,157.8 111.9,158.4 112.5,159.0 113.1,159.6 113.7,160.2 114.2,160.8 114.9,161.5 115.6,162.3 116.2,163.0 116.8,163.7 117.3,164.4 117.9,165.0 118.5,166.0 119.1,167.0 119.5,167.6 120.0,168.4 120.4,169.0 120.8,169.8 121.3,170.5 121.7,171.2 122.1,172.0 122.6,172.8 123.0,173.6 123.4,174.5 123.9,175.3 124.3,176.1 124.8,176.9 125.3,177.7 125.8,178.6 126.4,179.3 126.9,180.1 127.5,180.9 128.1,181.6 128.8,182.3 129.4,183.0 130.1,183.7 130.7,184.4 131.4,185.0 132.1,185.7 132.7,186.3 133.3,186.9 133.9,187.5 134.5,188.1 135.1,188.7 135.7,189.3 136.2,190.0 136.8,190.6 137.5,191.5 138.2,192.4 138.9,193.0 139.5,193.7 140.2,194.3 140.9,195.0 141.7,195.6 142.5,196.2 143.1,196.7 143.8,197.2 144.5,197.7 145.2,198.2 146.0,198.7 146.8,199.3 147.5,199.8 148.3,200.4 149.0,200.9 149.7,201.4 150.5,201.9 151.2,202.4 151.9,202.8 152.7,203.3 153.5,203.7 154.3,204.2 155.1,204.6 155.9,205.1 156.7,205.5 157.4,205.9 158.2,206.4 158.9,206.8 159.7,207.3 160.4,207.8 161.1,208.2 161.8,208.6 162.5,209.0 163.3,209.3 164.0,209.7 164.7,210.0 165.4,210.4 166.1,210.7 166.9,211.1 167.6,211.4 168.4,211.8 169.1,212.3 169.9,212.7 170.7,213.2 171.5,213.6 172.3,214.0 173.1,214.5 173.9,214.8 174.7,215.2 175.6,215.6 176.5,216.0 177.4,216.3 178.1,216.6 178.9,217.0 179.7,217.4 180.4,217.7 181.4,218.2 182.4,218.7 183.4,219.1 184.3,219.5 185.2,219.8 186.2,220.1 187.1,220.3 188.0,220.6 188.9,220.9 189.8,221.2 190.6,221.5 191.5,221.8 192.4,222.1 193.3,222.5 194.2,222.8 195.1,223.0 196.0,223.3 196.9,223.5 197.8,223.8 198.7,224.0 199.6,224.2 200.4,224.5 201.2,224.8 201.9,225.1 202.7,225.4 203.5,225.7 204.3,226.0 205.1,226.3 205.9,226.6 206.7,226.8 207.5,227.0 208.3,227.2 209.1,227.4 209.9,227.7 210.7,227.9 211.5,228.2 212.3,228.5 213.1,228.8 213.9,229.1 214.7,229.4 215.5,229.6 216.2,229.9 217.0,230.1 217.8,230.3 218.7,230.4 219.6,230.6 220.4,230.8 221.3,231.1 222.2,231.4 223.1,231.7 223.9,231.9 224.8,232.2 225.6,232.5 226.5,232.7 227.3,232.9 228.2,233.0 229.0,233.2 229.9,233.4 230.7,233.5 231.6,233.6 232.4,233.9 233.2,234.1 234.0,234.3 234.9,234.5 235.7,234.8 236.6,235.0 237.4,235.2 238.3,235.3 239.2,235.5 240.1,235.6 241.0,235.8 242.0,235.9 243.0,236.2 244.4,236.6 246.4,236.6 246.4,256.8 49.5,256.8 49.5,135.0" fill="#465EFB"/>
<polygon points="51.5,158.8 52.5,159.0 54.4,159.5 57.3,160.3 61.1,161.2 64.7,162.2 68.0,163.3 71.0,164.4 73.8,165.5 76.5,166.6 79.3,167.5 82.0,168.4 84.8,169.3 87.7,170.2 90.9,171.2 94.2,172.4 97.8,173.7 100.8,174.9 103.3,176.1 105.3,177.2 106.8,178.4 108.3,179.5 109.9,180.7 111.6,182.0 113.4,183.3 115.2,184.9 117.1,186.9 119.0,189.1 121.0,191.7 123.4,194.3 126.1,196.9 129.2,199.6 132.8,202.4 136.2,204.9 139.6,207.3 142.9,209.4 146.1,211.3 149.2,213.1 152.1,214.7 154.8,216.2 157.4,217.5 160.4,219.0 163.9,220.5 167.9,222.2 172.4,223.9 176.6,225.6 180.4,227.1 183.8,228.4 186.9,229.7 190.0,230.8 193.0,231.8 196.1,232.7 199.1,233.5 204.0,234.7 210.6,236.2 219.0,238.1 229.1,240.3 236.8,242.0 241.9,243.1 244.4,243.7 246.4,243.7 246.4,256.8 49.5,256.8 49.5,158.8" fill="#463CDE"/>
<polygon points="51.5,190.5 52.1,190.7 53.2,191.0 54.9,191.4 57.1,192.1 59.3,192.7 61.5,193.3 63.7,194.0 65.8,194.6 67.9,195.4 70.0,196.2 72.0,197.1 74.1,198.0 76.4,199.0 78.7,200.0 81.2,200.9 83.7,201.9 86.8,203.1 90.4,204.5 94.4,206.2 99.0,208.1 103.0,209.9 106.6,211.5 109.6,213.0 112.2,214.3 115.3,215.9 119.0,217.7 123.3,219.7 128.1,221.9 133.0,224.1 137.8,226.2 142.6,228.2 147.5,230.1 152.3,231.9 157.3,233.7 162.3,235.4 167.4,236.9 172.3,238.4 177.2,239.7 181.9,240.9 186.5,242.1 190.6,243.0 194.2,243.8 197.3,244.4 199.8,244.9 203.0,245.5 206.8,246.3 211.2,247.3 216.2,248.5 221.2,249.6 226.3,250.7 231.5,251.8 236.6,252.9 240.5,253.7 243.1,254.2 244.4,254.5 246.4,254.5 246.4,256.8 49.5,256.8 49.5,190.5" fill="#3E26A8"/>
<path d="M51.5 55.5 L79.9 55.5 L88.6 56.0 L94.5 57.1 L97.8 58.7 L98.7 63.3 L98.7 63.7 L98.4 63.5 L98.5 63.9 L107.7 88.3 L119.6 116.7 L124.9 128.7 L127.4 134.9 L130.3 140.6 L132.7 144.6 L135.7 148.2 L140.9 156.2 L142.4 157.5" fill="none" stroke="#7a4a00" stroke-width="0.60"/>
<path d="M159.4 172.1 L162.2 175.8 L167.5 178.8 L173.1 186.1 L174.9 187.2 L178.2 188.3 L183.7 194.0 L186.9 195.1 L188.8 195.5 L194.3 200.2 L199.4 200.9 L199.8 201.1 L204.9 205.3 L210.4 205.9 L213.7 208.5 L215.3 209.7 L215.8 209.9 L220.7 209.8 L221.2 210.0 L226.1 213.4 L226.6 213.6 L231.3 213.3 L231.8 213.5 L237.1 217.0 L242.3 216.8 L243.1 217.3" fill="none" stroke="#7a4a00" stroke-width="0.60"/>
<path d="M51.5 58.3 L67.4 60.7 L77.5 62.7" fill="none" stroke="#000" stroke-width="0.75"/>
<path d="M98.6 71.1 L100.1 74.0 L103.5 82.4 L107.5 91.6 L118.2 114.2 L124.8 128.6 L130.2 141.3 L133.7 147.6 L135.6 150.5 L138.7 155.8 L141.3 159.6 L146.4 165.8" fill="none" stroke="#000" stroke-width="0.75"/>
<path d="M161.9 181.5 L162.4 181.9 L167.6 183.5 L173.1 189.0 L178.3 190.8 L183.4 195.9 L184.1 196.3 L185.7 196.8 L188.6 197.5 L189.3 197.9 L194.1 202.0 L194.9 202.3 L199.4 203.0 L205.2 207.1 L209.9 207.4 L210.7 207.7 L215.5 211.0 L221.2 211.2 L225.8 214.2 L226.7 214.5 L231.6 214.2 L236.4 217.1 L237.2 217.4 L241.6 217.2 L242.5 217.3 L244.4 218.4" fill="none" stroke="#000" stroke-width="0.75"/>
<path d="M51.5 70.4 L67.4 73.1 L75.3 74.6" fill="none" stroke="#000" stroke-width="0.75"/>
<path d="M96.6 81.3 L98.0 82.5 L100.9 87.1 L115.4 114.3 L119.5 122.6 L124.9 134.6 L130.1 146.5 L132.1 150.4 L134.4 154.0 L137.7 158.4 L141.1 163.7 L146.5 169.9 L149.7 174.3" fill="none" stroke="#000" stroke-width="0.75"/>
<path d="M168.1 187.5 L172.5 191.5 L173.2 192.0 L178.2 193.6 L183.4 198.3 L185.7 199.2 L188.6 200.0 L189.3 200.4 L194.1 204.3 L194.9 204.6 L199.4 205.4 L205.2 209.4 L209.9 209.9 L210.7 210.2 L215.5 213.3 L221.2 213.6 L225.8 216.4 L226.7 216.6 L231.6 216.4 L236.4 219.0 L237.2 219.3 L241.6 219.1 L242.5 219.2 L244.4 220.2" fill="none" stroke="#000" stroke-width="0.75"/>
<path d="M51.5 84.6 L73.4 88.4" fill="none" stroke="#000" stroke-width="0.75"/>
<path d="M95.6 94.1 L97.2 94.9 L98.5 95.7 L100.0 97.4 L101.9 99.9 L104.0 103.3 L115.1 123.4 L118.9 131.5 L127.2 150.2 L130.1 155.4 L131.9 157.7 L135.8 161.9 L141.2 169.7 L146.0 174.5 L151.6 180.9 L154.6 182.7" fill="none" stroke="#000" stroke-width="0.75"/>
<path d="M173.4 195.2 L178.2 196.9 L183.4 201.3 L185.7 202.2 L188.6 203.1 L189.3 203.5 L194.1 207.1 L194.9 207.4 L199.4 208.4 L205.2 212.2 L209.9 212.8 L210.7 213.1 L215.5 215.9 L221.2 216.4 L225.8 218.9 L226.7 219.1 L231.6 219.0 L236.4 221.3 L237.2 221.6 L242.5 221.7 L244.4 222.6" fill="none" stroke="#000" stroke-width="0.75"/>
<path d="M51.5 98.8 L71.8 103.4" fill="none" stroke="#000" stroke-width="0.75"/>
<path d="M93.0 109.4 L98.4 111.6 L100.5 113.0 L102.4 114.8 L104.2 117.1 L113.1 131.8 L116.1 137.2 L117.1 139.5 L121.2 150.8 L122.7 153.6 L127.5 160.5 L130.3 164.0 L135.6 169.9 L140.8 176.5 L143.1 179.0 L151.6 186.6 L152.9 187.4 L157.3 189.4 L160.9 192.1" fill="none" stroke="#000" stroke-width="0.75"/>
<path d="M180.3 203.8 L183.4 206.2 L185.7 207.3 L188.6 208.4 L194.1 211.9 L199.4 213.3 L205.2 216.3 L210.7 217.4 L215.5 219.7 L221.2 220.5 L225.8 222.6 L226.7 222.9 L231.6 223.3 L237.2 225.6 L242.5 226.1 L244.4 226.9" fill="none" stroke="#000" stroke-width="0.75"/>
<path d="M51.5 114.3 L63.6 118.7 L69.7 120.7" fill="none" stroke="#000" stroke-width="0.75"/>
<path d="M91.9 126.4 L97.9 128.8 L100.4 130.5 L102.8 132.8 L105.2 135.6 L107.4 138.9 L111.1 144.9 L113.5 149.9 L115.2 152.7 L117.4 155.7 L120.2 159.2 L126.5 166.3 L133.2 175.0 L139.2 182.1 L141.3 184.2 L146.4 188.5 L150.1 192.1 L152.0 193.8 L157.1 197.0 L162.3 200.9 L165.5 202.4" fill="none" stroke="#000" stroke-width="0.75"/>
<path d="M185.7 212.4 L189.0 213.5 L193.9 216.0 L199.4 217.6 L205.0 220.3 L210.0 221.4 L215.6 223.7 L221.0 224.7 L226.7 226.8 L231.6 227.5 L237.2 229.4 L242.5 230.2 L244.4 230.8" fill="none" stroke="#000" stroke-width="0.75"/>
<path d="M51.5 135.0 L68.5 139.3" fill="none" stroke="#000" stroke-width="0.75"/>
<path d="M89.8 146.4 L99.8 149.3 L103.0 150.7 L106.0 153.1 L111.9 158.4 L114.2 160.8 L117.9 165.0 L121.7 171.2 L124.3 176.1 L125.8 178.6 L127.5 180.9 L129.4 183.0 L135.1 188.7 L138.2 192.4 L140.2 194.3 L142.5 196.2 L151.9 202.8 L156.7 205.5 L162.5 209.0 L167.6 211.4 L173.1 214.5 L174.7 215.2" fill="none" stroke="#000" stroke-width="0.75"/>
<path d="M196.0 223.3 L199.6 224.2 L205.1 226.3 L209.9 227.7 L215.5 229.6 L221.3 231.1 L226.5 232.7 L231.6 233.6 L236.6 235.0 L242.0 235.9 L244.4 236.6" fill="none" stroke="#000" stroke-width="0.75"/>
<path d="M51.5 158.8 L61.1 161.2 L67.3 163.1" fill="none" stroke="#000" stroke-width="0.75"/>
<path d="M88.4 170.4 L97.8 173.7 L102.1 175.5 L105.3 177.2 L113.4 183.3 L115.2 184.9 L117.1 186.9 L121.0 191.7 L123.4 194.3 L126.1 196.9 L129.2 199.6 L136.2 204.9 L142.9 209.4 L152.1 214.7 L160.4 219.0 L167.9 222.2 L181.0 227.3" fill="none" stroke="#000" stroke-width="0.75"/>
<path d="M202.1 234.2 L244.4 243.7" fill="none" stroke="#000" stroke-width="0.75"/>
<path d="M51.5 190.5 L60.8 193.1" fill="none" stroke="#000" stroke-width="0.75"/>
<path d="M77.0 199.2 L86.8 203.1 L99.0 208.1 L106.6 211.5 L115.3 215.9 L128.1 221.9 L137.8 226.2 L147.5 230.1 L157.3 233.7 L167.4 236.9 L177.2 239.7 L185.2 241.7" fill="none" stroke="#000" stroke-width="0.75"/>
<path d="M201.7 245.3 L226.3 250.7 L244.4 254.5" fill="none" stroke="#000" stroke-width="0.75"/>
</g>
<g font-family="'Liberation Sans', sans-serif" font-size="10" text-anchor="middle" fill="#000" stroke="#000" stroke-width="0.25">
<text transform="translate(88.3 66.1) rotate(17)" y="3.6">4000</text>
<text transform="translate(86.3 77.8) rotate(16)" y="3.6">3500</text>
<text transform="translate(84.4 91.1) rotate(15)" y="3.6">3000</text>
<text transform="translate(82.4 105.9) rotate(16)" y="3.6">2500</text>
<text transform="translate(81.0 123.0) rotate(14)" y="3.6">2000</text>
<text transform="translate(79.2 142.7) rotate(17)" y="3.6">1500</text>
<text transform="translate(77.9 167.2) rotate(18)" y="3.6">1000</text>
<text transform="translate(68.9 195.6) rotate(20)" y="3.6">500</text>
<text transform="translate(193.4 243.7) rotate(12)" y="3.6">500</text>
<text transform="translate(191.5 231.5) rotate(16)" y="3.6">1000</text>
<text transform="translate(185.0 219.6) rotate(22)" y="3.6">1500</text>
<text transform="translate(175.6 206.6) rotate(28)" y="3.6">2000</text>
<text transform="translate(170.6 198.6) rotate(31)" y="3.6">2500</text>
<text transform="translate(164.3 188.7) rotate(38)" y="3.6">3000</text>
<text transform="translate(159.5 179.5) rotate(43)" y="3.6">3500</text>
<text transform="translate(155.5 172.5) rotate(45)" y="3.6">4000</text>
<text transform="translate(150.0 165.5) rotate(47)" y="3.6">4500</text>
</g>
<rect x="179.2" y="250.7" width="65.2" height="3.6" fill="#fff"/>
<path d="M47.4 44.6 L51.5 57.1 L95.6 57.1 L99.8 62.0 L109.4 87.4 L119.4 111.1 L119.8 112.1 L124.8 123.4 L128.9 133.7 L130.4 136.7 L134.7 143.7 L135.7 144.8 L141.0 153.1 L143.0 155.2 L146.1 157.2 L147.3 158.5 L151.7 163.8 L156.7 166.7 L157.3 167.3 L162.2 173.7 L162.8 174.1 L167.5 176.6 L172.9 183.7 L176.0 185.7 L178.0 186.3 L178.7 186.9 L183.5 192.1 L184.1 192.4 L188.9 193.8 L193.9 198.3 L194.6 198.7 L199.6 199.3 L201.8 201.2 L204.8 203.8 L205.6 203.9 L210.1 204.2 L210.9 204.7 L214.7 207.9 L215.5 208.5 L216.2 208.6 L220.8 208.3 L221.5 208.7 L226.1 212.1 L226.8 212.2 L231.4 211.9 L232.2 212.3 L236.8 215.6 L237.5 215.7 L242.1 215.3 L242.9 215.7 L244.4 216.8" fill="none" stroke="#000" stroke-width="1.05" stroke-linejoin="round"/>
<path d="M138.1 148.6 L141.0 153.1 L143.0 155.2 L146.1 157.2 L147.3 158.5 L151.7 163.8 L156.7 166.7 L157.3 167.3 L162.2 173.7" fill="none" stroke="#000" stroke-width="1.35" stroke-linecap="round"/>
<path d="M47.4 44.6 L51.5 57.1" fill="none" stroke="#000" stroke-width="1.75" stroke-linejoin="round" stroke-linecap="round"/>
<path d="M95.6 57.1 L99.8 62.0 L109.4 87.4 L119.4 111.1 L119.8 112.1 L124.8 123.4 L128.9 133.7 L130.4 136.7 L134.7 143.7 L135.7 144.8 L139.1 150.1" transform="translate(0.6 -0.1)" fill="none" stroke="#000" stroke-width="1.75" stroke-linejoin="round" stroke-linecap="round"/>
<clipPath id="cb"><polygon points="325.0,58.3 325.4,58.3 326.2,58.3 327.0,58.3 327.8,58.3 328.6,58.3 329.5,58.3 330.3,58.3 331.1,58.3 331.9,58.3 332.7,58.3 333.5,58.3 334.3,58.3 335.1,58.3 336.0,58.3 336.8,58.3 337.6,58.3 338.4,58.3 339.2,58.3 340.0,58.3 340.8,58.3 341.7,58.3 342.5,58.3 343.3,58.3 344.1,58.3 344.9,58.3 345.7,58.3 346.5,58.3 347.4,58.3 348.2,58.3 349.0,58.3 349.8,58.3 350.6,58.3 351.4,58.3 352.2,58.3 353.1,58.3 353.9,58.3 354.7,58.3 355.5,58.3 356.3,58.3 357.1,58.3 357.9,58.3 358.8,58.3 359.6,58.3 360.4,58.3 361.2,58.3 362.0,58.3 362.8,58.3 363.6,58.3 364.4,58.3 365.3,58.3 366.1,58.3 366.9,58.3 367.7,58.3 368.5,58.3 369.3,58.3 369.9,58.9 370.4,59.5 370.9,60.1 371.5,60.8 372.0,61.4 372.5,62.0 373.1,62.6 373.6,63.2 373.9,64.0 374.2,64.7 374.5,65.5 374.7,66.2 375.0,67.0 375.3,67.7 375.6,68.5 375.9,69.2 376.2,70.0 376.5,70.7 376.8,71.5 377.0,72.2 377.3,73.0 377.6,73.7 377.9,74.5 378.2,75.2 378.5,76.0 378.8,76.7 379.0,77.5 379.3,78.2 379.6,79.0 379.9,79.7 380.2,80.5 380.5,81.2 380.8,82.0 381.1,82.7 381.3,83.5 381.6,84.3 381.9,85.0 382.2,85.8 382.5,86.5 382.8,87.3 383.1,88.0 383.3,88.8 383.7,89.5 384.0,90.3 384.3,91.0 384.6,91.7 384.9,92.5 385.3,93.2 385.6,94.0 385.9,94.7 386.2,95.5 386.5,96.2 386.9,97.0 387.2,97.7 387.5,98.4 387.8,99.2 388.1,99.9 388.4,100.7 388.8,101.4 389.1,102.2 389.4,102.9 389.7,103.7 390.0,104.4 390.4,105.2 390.7,105.9 391.0,106.6 391.3,107.4 391.6,108.1 391.9,108.9 392.3,109.6 392.6,110.4 392.9,111.1 393.2,111.9 393.5,112.6 393.9,113.6 394.2,114.3 394.5,115.0 394.8,115.7 395.1,116.5 395.5,117.2 395.8,117.9 396.1,118.6 396.4,119.3 396.7,120.1 397.1,120.8 397.4,121.5 397.7,122.2 398.0,122.9 398.3,123.6 398.7,124.3 399.0,125.0 399.3,125.8 399.6,126.6 399.9,127.3 400.3,128.1 400.6,128.9 400.9,129.7 401.2,130.5 401.5,131.3 401.9,132.1 402.2,132.9 402.5,133.7 402.8,134.5 403.1,135.3 403.5,136.1 403.9,136.9 404.3,137.7 404.7,138.4 405.1,139.0 405.5,139.7 405.9,140.3 406.3,141.0 406.7,141.6 407.1,142.3 407.5,142.9 407.9,143.5 408.2,144.2 408.6,144.8 409.0,145.4 409.5,146.0 410.0,146.5 410.5,147.3 411.0,148.0 411.5,148.8 412.0,149.6 412.5,150.3 413.0,151.1 413.5,151.8 414.0,152.6 414.5,153.4 415.0,154.2 415.5,154.9 416.0,155.4 416.5,156.0 417.0,156.5 417.4,157.0 418.1,157.4 418.7,157.8 419.3,158.2 420.0,158.6 420.6,159.0 421.2,159.6 421.8,160.4 422.5,161.1 423.1,161.8 423.7,162.6 424.4,163.4 425.0,164.1 425.6,164.9 426.2,165.6 426.9,166.0 427.5,166.4 428.1,166.7 428.8,167.1 429.4,167.5 430.1,167.9 430.7,168.2 431.3,168.6 432.0,169.2 432.6,170.0 433.3,170.8 433.9,171.6 434.5,172.4 435.1,173.2 435.7,174.0 436.3,174.8 436.9,175.6 437.5,176.0 438.1,176.3 438.7,176.6 439.3,176.9 439.9,177.2 440.5,177.6 441.2,177.9 441.8,178.2 442.4,178.5 443.0,179.3 443.6,180.1 444.2,180.9 444.8,181.6 445.4,182.4 446.0,183.2 446.6,184.0 447.2,184.8 447.8,185.7 448.4,186.1 449.1,186.5 449.7,186.9 450.3,187.3 450.9,187.7 451.6,187.9 452.3,188.1 453.0,188.3 453.7,188.9 454.4,189.6 455.1,190.3 455.8,191.1 456.5,191.8 457.2,192.6 457.8,193.3 458.5,194.1 459.2,194.4 459.9,194.6 460.6,194.8 461.3,195.0 462.0,195.2 462.7,195.4 463.4,195.6 464.0,195.9 464.8,196.5 465.5,197.1 466.2,197.8 467.0,198.4 467.7,199.1 468.4,199.7 469.1,200.3 469.9,200.7 470.6,200.8 471.3,200.9 472.1,201.0 472.8,201.1 473.5,201.2 474.2,201.2 475.0,201.3 475.7,202.0 476.4,202.6 477.1,203.3 477.9,203.9 478.7,204.6 479.5,205.2 480.2,205.9 481.0,206.0 481.8,206.0 482.5,206.1 483.3,206.1 484.1,206.2 484.9,206.2 485.6,206.3 486.4,206.8 487.2,207.4 487.9,208.1 488.7,208.7 489.5,209.4 490.2,210.0 491.0,210.6 491.8,210.7 492.6,210.6 493.3,210.6 494.1,210.6 494.9,210.5 495.6,210.5 496.4,210.5 497.2,210.9 498.0,211.4 498.7,212.0 499.5,212.6 500.3,213.1 501.0,213.7 501.8,214.2 502.6,214.4 503.3,214.3 504.1,214.3 504.9,214.2 505.7,214.2 506.4,214.1 507.2,214.1 508.0,214.4 508.8,215.0 509.5,215.5 510.3,216.1 511.1,216.6 511.9,217.2 512.6,217.7 513.4,217.8 514.2,217.8 515.0,217.7 515.8,217.7 516.5,217.6 517.3,217.6 518.1,217.5 518.9,217.9 519.6,218.4 520.4,219.0 520.4,252.4 454.0,252.4 454.0,254.7 325.0,254.7"/></clipPath>
<g clip-path="url(#cb)">
<rect x="318" y="40" width="210" height="220" fill="#000080"/>
<polygon points="324.7,56.0 324.6,60.0 324.6,64.0 324.5,68.0 324.4,72.0 324.3,76.0 324.2,80.0 324.1,84.0 324.0,88.0 324.0,92.0 323.9,96.0 323.8,100.0 323.7,104.0 323.6,108.0 323.5,112.0 323.4,116.0 323.4,120.0 323.3,124.0 323.2,128.0 323.1,132.0 323.0,136.0 322.9,140.0 322.9,144.0 322.8,148.0 322.7,152.0 322.6,156.0 322.5,160.0 322.4,164.0 322.4,168.0 322.3,172.0 322.2,176.0 322.1,180.0 322.0,184.0 321.9,188.0 321.9,192.0 321.8,196.0 321.7,200.0 321.6,204.0 321.6,208.0 321.5,212.0 321.4,216.0 321.3,220.0 321.3,224.0 321.2,228.0 321.1,232.0 321.1,236.0 321.0,240.0 320.9,244.0 320.9,248.0 320.8,252.0 320.8,258.0 560.0,258.0 560.0,50.0 324.7,50.0" fill="#000080"/>
<polygon points="324.9,56.0 324.8,60.0 324.7,64.0 324.6,68.0 324.5,72.0 324.4,76.0 324.4,80.0 324.3,84.0 324.2,88.0 324.1,92.0 324.0,96.0 323.9,100.0 323.8,104.0 323.7,108.0 323.6,112.0 323.6,116.0 323.5,120.0 323.4,124.0 323.3,128.0 323.2,132.0 323.1,136.0 323.0,140.0 322.9,144.0 322.9,148.0 322.8,152.0 322.7,156.0 322.6,160.0 322.5,164.0 322.4,168.0 322.3,172.0 322.3,176.0 322.2,180.0 322.1,184.0 322.0,188.0 321.9,192.0 321.8,196.0 321.8,200.0 321.7,204.0 321.6,208.0 321.5,212.0 321.4,216.0 321.4,220.0 321.3,224.0 321.2,228.0 321.2,232.0 321.1,236.0 321.0,240.0 321.0,244.0 320.9,248.0 320.8,252.0 320.8,258.0 560.0,258.0 560.0,50.0 324.9,50.0" fill="#000080"/>
<polygon points="325.1,56.0 325.0,60.0 324.9,64.0 324.8,68.0 324.7,72.0 324.6,76.0 324.5,80.0 324.4,84.0 324.3,88.0 324.3,92.0 324.2,96.0 324.1,100.0 324.0,104.0 323.9,108.0 323.8,112.0 323.7,116.0 323.6,120.0 323.5,124.0 323.4,128.0 323.3,132.0 323.2,136.0 323.1,140.0 323.1,144.0 323.0,148.0 322.9,152.0 322.8,156.0 322.7,160.0 322.6,164.0 322.5,168.0 322.4,172.0 322.3,176.0 322.3,180.0 322.2,184.0 322.1,188.0 322.0,192.0 321.9,196.0 321.8,200.0 321.7,204.0 321.7,208.0 321.6,212.0 321.5,216.0 321.4,220.0 321.3,224.0 321.3,228.0 321.2,232.0 321.1,236.0 321.1,240.0 321.0,244.0 320.9,248.0 320.9,252.0 320.9,258.0 560.0,258.0 560.0,50.0 325.1,50.0" fill="#000080"/>
<polygon points="325.3,56.0 325.2,60.0 325.1,64.0 325.0,68.0 324.9,72.0 324.8,76.0 324.7,80.0 324.6,84.0 324.5,88.0 324.4,92.0 324.3,96.0 324.2,100.0 324.1,104.0 324.0,108.0 323.9,112.0 323.8,116.0 323.7,120.0 323.7,124.0 323.6,128.0 323.5,132.0 323.4,136.0 323.3,140.0 323.2,144.0 323.1,148.0 323.0,152.0 322.9,156.0 322.8,160.0 322.7,164.0 322.6,168.0 322.5,172.0 322.4,176.0 322.3,180.0 322.2,184.0 322.2,188.0 322.1,192.0 322.0,196.0 321.9,200.0 321.8,204.0 321.7,208.0 321.6,212.0 321.5,216.0 321.5,220.0 321.4,224.0 321.3,228.0 321.2,232.0 321.2,236.0 321.1,240.0 321.0,244.0 321.0,248.0 320.9,252.0 320.9,258.0 560.0,258.0 560.0,50.0 325.3,50.0" fill="#000080"/>
<polygon points="325.5,56.0 325.4,60.0 325.3,64.0 325.2,68.0 325.1,72.0 325.0,76.0 324.9,80.0 324.8,84.0 324.7,88.0 324.6,92.0 324.5,96.0 324.4,100.0 324.3,104.0 324.2,108.0 324.1,112.0 324.0,116.0 323.9,120.0 323.8,124.0 323.7,128.0 323.6,132.0 323.5,136.0 323.4,140.0 323.3,144.0 323.2,148.0 323.1,152.0 323.0,156.0 322.9,160.0 322.8,164.0 322.7,168.0 322.6,172.0 322.5,176.0 322.4,180.0 322.3,184.0 322.2,188.0 322.1,192.0 322.0,196.0 322.0,200.0 321.9,204.0 321.8,208.0 321.7,212.0 321.6,216.0 321.5,220.0 321.4,224.0 321.3,228.0 321.3,232.0 321.2,236.0 321.1,240.0 321.1,244.0 321.0,248.0 320.9,252.0 320.9,258.0 560.0,258.0 560.0,50.0 325.5,50.0" fill="#000087"/>
<polygon points="325.8,56.0 325.7,60.0 325.6,64.0 325.4,68.0 325.3,72.0 325.2,76.0 325.1,80.0 325.0,84.0 324.9,88.0 324.8,92.0 324.7,96.0 324.6,100.0 324.5,104.0 324.4,108.0 324.3,112.0 324.2,116.0 324.1,120.0 324.0,124.0 323.9,128.0 323.8,132.0 323.6,136.0 323.5,140.0 323.4,144.0 323.3,148.0 323.2,152.0 323.1,156.0 323.0,160.0 322.9,164.0 322.8,168.0 322.7,172.0 322.6,176.0 322.5,180.0 322.4,184.0 322.3,188.0 322.2,192.0 322.1,196.0 322.0,200.0 321.9,204.0 321.8,208.0 321.8,212.0 321.7,216.0 321.6,220.0 321.5,224.0 321.4,228.0 321.3,232.0 321.2,236.0 321.2,240.0 321.1,244.0 321.0,248.0 321.0,252.0 321.0,258.0 560.0,258.0 560.0,50.0 325.8,50.0" fill="#0000A8"/>
<polygon points="326.0,56.0 325.9,60.0 325.8,64.0 325.7,68.0 325.6,72.0 325.5,76.0 325.4,80.0 325.2,84.0 325.1,88.0 325.0,92.0 324.9,96.0 324.8,100.0 324.7,104.0 324.6,108.0 324.5,112.0 324.4,116.0 324.2,120.0 324.1,124.0 324.0,128.0 323.9,132.0 323.8,136.0 323.7,140.0 323.6,144.0 323.5,148.0 323.4,152.0 323.3,156.0 323.2,160.0 323.0,164.0 322.9,168.0 322.8,172.0 322.7,176.0 322.6,180.0 322.5,184.0 322.4,188.0 322.3,192.0 322.2,196.0 322.1,200.0 322.0,204.0 321.9,208.0 321.8,212.0 321.7,216.0 321.6,220.0 321.5,224.0 321.5,228.0 321.4,232.0 321.3,236.0 321.2,240.0 321.1,244.0 321.1,248.0 321.0,252.0 321.0,258.0 560.0,258.0 560.0,50.0 326.0,50.0" fill="#0000CA"/>
<polygon points="326.3,56.0 326.2,60.0 326.0,64.0 325.9,68.0 325.8,72.0 325.7,76.0 325.6,80.0 325.5,84.0 325.3,88.0 325.2,92.0 325.1,96.0 325.0,100.0 324.9,104.0 324.8,108.0 324.7,112.0 324.5,116.0 324.4,120.0 324.3,124.0 324.2,128.0 324.1,132.0 324.0,136.0 323.8,140.0 323.7,144.0 323.6,148.0 323.5,152.0 323.4,156.0 323.3,160.0 323.2,164.0 323.1,168.0 322.9,172.0 322.8,176.0 322.7,180.0 322.6,184.0 322.5,188.0 322.4,192.0 322.3,196.0 322.2,200.0 322.1,204.0 322.0,208.0 321.9,212.0 321.8,216.0 321.7,220.0 321.6,224.0 321.5,228.0 321.4,232.0 321.3,236.0 321.3,240.0 321.2,244.0 321.1,248.0 321.0,252.0 321.0,258.0 560.0,258.0 560.0,50.0 326.3,50.0" fill="#0000EB"/>
<polygon points="326.6,56.0 326.5,60.0 326.3,64.0 326.2,68.0 326.1,72.0 326.0,76.0 325.9,80.0 325.7,84.0 325.6,88.0 325.5,92.0 325.4,96.0 325.2,100.0 325.1,104.0 325.0,108.0 324.9,112.0 324.8,116.0 324.6,120.0 324.5,124.0 324.4,128.0 324.3,132.0 324.2,136.0 324.0,140.0 323.9,144.0 323.8,148.0 323.7,152.0 323.6,156.0 323.4,160.0 323.3,164.0 323.2,168.0 323.1,172.0 323.0,176.0 322.9,180.0 322.7,184.0 322.6,188.0 322.5,192.0 322.4,196.0 322.3,200.0 322.2,204.0 322.1,208.0 322.0,212.0 321.9,216.0 321.8,220.0 321.7,224.0 321.6,228.0 321.5,232.0 321.4,236.0 321.3,240.0 321.2,244.0 321.2,248.0 321.1,252.0 321.1,258.0 560.0,258.0 560.0,50.0 326.6,50.0" fill="#000DFF"/>
<polygon points="326.9,56.0 326.8,60.0 326.6,64.0 326.5,68.0 326.4,72.0 326.3,76.0 326.1,80.0 326.0,84.0 325.9,88.0 325.7,92.0 325.6,96.0 325.5,100.0 325.4,104.0 325.2,108.0 325.1,112.0 325.0,116.0 324.8,120.0 324.7,124.0 324.6,128.0 324.5,132.0 324.3,136.0 324.2,140.0 324.1,144.0 324.0,148.0 323.8,152.0 323.7,156.0 323.6,160.0 323.5,164.0 323.3,168.0 323.2,172.0 323.1,176.0 323.0,180.0 322.9,184.0 322.7,188.0 322.6,192.0 322.5,196.0 322.4,200.0 322.3,204.0 322.2,208.0 322.1,212.0 322.0,216.0 321.8,220.0 321.7,224.0 321.6,228.0 321.5,232.0 321.5,236.0 321.4,240.0 321.3,244.0 321.2,248.0 321.1,252.0 321.1,258.0 560.0,258.0 560.0,50.0 326.9,50.0" fill="#002FFF"/>
<polygon points="327.3,56.0 327.1,60.0 327.0,64.0 326.9,68.0 326.7,72.0 326.6,76.0 326.4,80.0 326.3,84.0 326.2,88.0 326.0,92.0 325.9,96.0 325.8,100.0 325.6,104.0 325.5,108.0 325.4,112.0 325.2,116.0 325.1,120.0 325.0,124.0 324.8,128.0 324.7,132.0 324.6,136.0 324.4,140.0 324.3,144.0 324.2,148.0 324.0,152.0 323.9,156.0 323.8,160.0 323.6,164.0 323.5,168.0 323.4,172.0 323.3,176.0 323.1,180.0 323.0,184.0 322.9,188.0 322.7,192.0 322.6,196.0 322.5,200.0 322.4,204.0 322.3,208.0 322.2,212.0 322.0,216.0 321.9,220.0 321.8,224.0 321.7,228.0 321.6,232.0 321.5,236.0 321.4,240.0 321.3,244.0 321.3,248.0 321.2,252.0 321.2,258.0 560.0,258.0 560.0,50.0 327.3,50.0" fill="#0050FF"/>
<polygon points="327.6,56.0 327.5,60.0 327.3,64.0 327.2,68.0 327.0,72.0 326.9,76.0 326.8,80.0 326.6,84.0 326.5,88.0 326.3,92.0 326.2,96.0 326.0,100.0 325.9,104.0 325.8,108.0 325.6,112.0 325.5,116.0 325.3,120.0 325.2,124.0 325.1,128.0 324.9,132.0 324.8,136.0 324.6,140.0 324.5,144.0 324.4,148.0 324.2,152.0 324.1,156.0 323.9,160.0 323.8,164.0 323.7,168.0 323.5,172.0 323.4,176.0 323.3,180.0 323.1,184.0 323.0,188.0 322.9,192.0 322.7,196.0 322.6,200.0 322.5,204.0 322.4,208.0 322.3,212.0 322.1,216.0 322.0,220.0 321.9,224.0 321.8,228.0 321.7,232.0 321.6,236.0 321.5,240.0 321.4,244.0 321.3,248.0 321.2,252.0 321.2,258.0 560.0,258.0 560.0,50.0 327.6,50.0" fill="#0072FF"/>
<polygon points="328.0,56.0 327.9,60.0 327.7,64.0 327.6,68.0 327.4,72.0 327.3,76.0 327.1,80.0 327.0,84.0 326.8,88.0 326.7,92.0 326.5,96.0 326.4,100.0 326.2,104.0 326.1,108.0 325.9,112.0 325.8,116.0 325.6,120.0 325.5,124.0 325.3,128.0 325.2,132.0 325.0,136.0 324.9,140.0 324.7,144.0 324.6,148.0 324.4,152.0 324.3,156.0 324.1,160.0 324.0,164.0 323.9,168.0 323.7,172.0 323.6,176.0 323.4,180.0 323.3,184.0 323.2,188.0 323.0,192.0 322.9,196.0 322.8,200.0 322.6,204.0 322.5,208.0 322.4,212.0 322.2,216.0 322.1,220.0 322.0,224.0 321.9,228.0 321.8,232.0 321.7,236.0 321.6,240.0 321.5,244.0 321.4,248.0 321.3,252.0 321.3,258.0 560.0,258.0 560.0,50.0 328.0,50.0" fill="#0093FF"/>
<polygon points="328.4,56.0 328.3,60.0 328.1,64.0 328.0,68.0 327.8,72.0 327.6,76.0 327.5,80.0 327.3,84.0 327.2,88.0 327.0,92.0 326.9,96.0 326.7,100.0 326.5,104.0 326.4,108.0 326.2,112.0 326.1,116.0 325.9,120.0 325.7,124.0 325.6,128.0 325.4,132.0 325.3,136.0 325.1,140.0 325.0,144.0 324.8,148.0 324.7,152.0 324.5,156.0 324.4,160.0 324.2,164.0 324.1,168.0 323.9,172.0 323.8,176.0 323.6,180.0 323.5,184.0 323.3,188.0 323.2,192.0 323.0,196.0 322.9,200.0 322.7,204.0 322.6,208.0 322.5,212.0 322.4,216.0 322.2,220.0 322.1,224.0 322.0,228.0 321.9,232.0 321.8,236.0 321.7,240.0 321.6,244.0 321.5,248.0 321.4,252.0 321.4,258.0 560.0,258.0 560.0,50.0 328.4,50.0" fill="#00B5FF"/>
<polygon points="328.9,56.0 328.7,60.0 328.5,64.0 328.4,68.0 328.2,72.0 328.0,76.0 327.9,80.0 327.7,84.0 327.5,88.0 327.4,92.0 327.2,96.0 327.0,100.0 326.9,104.0 326.7,108.0 326.5,112.0 326.4,116.0 326.2,120.0 326.0,124.0 325.9,128.0 325.7,132.0 325.5,136.0 325.4,140.0 325.2,144.0 325.0,148.0 324.9,152.0 324.7,156.0 324.6,160.0 324.4,164.0 324.2,168.0 324.1,172.0 323.9,176.0 323.8,180.0 323.6,184.0 323.5,188.0 323.3,192.0 323.2,196.0 323.0,200.0 322.9,204.0 322.7,208.0 322.6,212.0 322.5,216.0 322.3,220.0 322.2,224.0 322.1,228.0 322.0,232.0 321.8,236.0 321.7,240.0 321.6,244.0 321.5,248.0 321.5,252.0 321.5,258.0 560.0,258.0 560.0,50.0 328.9,50.0" fill="#00D6FF"/>
<polygon points="329.4,56.0 329.2,60.0 329.0,64.0 328.8,68.0 328.7,72.0 328.5,76.0 328.3,80.0 328.1,84.0 328.0,88.0 327.8,92.0 327.6,96.0 327.4,100.0 327.2,104.0 327.1,108.0 326.9,112.0 326.7,116.0 326.5,120.0 326.4,124.0 326.2,128.0 326.0,132.0 325.8,136.0 325.7,140.0 325.5,144.0 325.3,148.0 325.2,152.0 325.0,156.0 324.8,160.0 324.6,164.0 324.5,168.0 324.3,172.0 324.1,176.0 324.0,180.0 323.8,184.0 323.7,188.0 323.5,192.0 323.3,196.0 323.2,200.0 323.0,204.0 322.9,208.0 322.7,212.0 322.6,216.0 322.5,220.0 322.3,224.0 322.2,228.0 322.1,232.0 321.9,236.0 321.8,240.0 321.7,244.0 321.6,248.0 321.5,252.0 321.5,258.0 560.0,258.0 560.0,50.0 329.4,50.0" fill="#00F8FF"/>
<polygon points="329.9,56.0 329.7,60.0 329.5,64.0 329.3,68.0 329.1,72.0 329.0,76.0 328.8,80.0 328.6,84.0 328.4,88.0 328.2,92.0 328.0,96.0 327.8,100.0 327.6,104.0 327.5,108.0 327.3,112.0 327.1,116.0 326.9,120.0 326.7,124.0 326.5,128.0 326.3,132.0 326.2,136.0 326.0,140.0 325.8,144.0 325.6,148.0 325.4,152.0 325.3,156.0 325.1,160.0 324.9,164.0 324.7,168.0 324.5,172.0 324.4,176.0 324.2,180.0 324.0,184.0 323.8,188.0 323.7,192.0 323.5,196.0 323.4,200.0 323.2,204.0 323.0,208.0 322.9,212.0 322.7,216.0 322.6,220.0 322.4,224.0 322.3,228.0 322.2,232.0 322.1,236.0 321.9,240.0 321.8,244.0 321.7,248.0 321.6,252.0 321.6,258.0 560.0,258.0 560.0,50.0 329.9,50.0" fill="#1AFFE5"/>
<polygon points="330.7,56.0 330.5,60.0 330.3,64.0 330.1,68.0 329.9,72.0 329.7,76.0 329.5,80.0 329.3,84.0 329.1,88.0 328.9,92.0 328.7,96.0 328.5,100.0 328.3,104.0 328.1,108.0 327.9,112.0 327.7,116.0 327.5,120.0 327.3,124.0 327.1,128.0 326.9,132.0 326.7,136.0 326.5,140.0 326.3,144.0 326.1,148.0 325.9,152.0 325.7,156.0 325.5,160.0 325.3,164.0 325.1,168.0 324.9,172.0 324.7,176.0 324.5,180.0 324.3,184.0 324.2,188.0 324.0,192.0 323.8,196.0 323.6,200.0 323.4,204.0 323.3,208.0 323.1,212.0 323.0,216.0 322.8,220.0 322.6,224.0 322.5,228.0 322.4,232.0 322.2,236.0 322.1,240.0 322.0,244.0 321.9,248.0 321.8,252.0 321.8,258.0 560.0,258.0 560.0,50.0 330.7,50.0" fill="#3CFFC3"/>
<polygon points="331.4,56.0 331.2,60.0 331.0,64.0 330.8,68.0 330.6,72.0 330.3,76.0 330.1,80.0 329.9,84.0 329.7,88.0 329.5,92.0 329.3,96.0 329.0,100.0 328.8,104.0 328.6,108.0 328.4,112.0 328.2,116.0 328.0,120.0 327.7,124.0 327.5,128.0 327.3,132.0 327.1,136.0 326.9,140.0 326.7,144.0 326.5,148.0 326.3,152.0 326.0,156.0 325.8,160.0 325.6,164.0 325.4,168.0 325.2,172.0 325.0,176.0 324.8,180.0 324.6,184.0 324.4,188.0 324.2,192.0 324.0,196.0 323.9,200.0 323.7,204.0 323.5,208.0 323.3,212.0 323.1,216.0 323.0,220.0 322.8,224.0 322.7,228.0 322.5,232.0 322.4,236.0 322.3,240.0 322.1,244.0 322.0,248.0 321.9,252.0 321.9,258.0 560.0,258.0 560.0,50.0 331.4,50.0" fill="#5DFFA2"/>
<polygon points="332.3,56.0 332.0,60.0 331.8,64.0 331.6,68.0 331.3,72.0 331.1,76.0 330.9,80.0 330.6,84.0 330.4,88.0 330.2,92.0 329.9,96.0 329.7,100.0 329.5,104.0 329.2,108.0 329.0,112.0 328.8,116.0 328.5,120.0 328.3,124.0 328.1,128.0 327.8,132.0 327.6,136.0 327.4,140.0 327.2,144.0 326.9,148.0 326.7,152.0 326.5,156.0 326.3,160.0 326.0,164.0 325.8,168.0 325.6,172.0 325.4,176.0 325.2,180.0 325.0,184.0 324.7,188.0 324.5,192.0 324.3,196.0 324.1,200.0 323.9,204.0 323.7,208.0 323.6,212.0 323.4,216.0 323.2,220.0 323.0,224.0 322.9,228.0 322.7,232.0 322.6,236.0 322.4,240.0 322.3,244.0 322.2,248.0 322.1,252.0 322.1,258.0 560.0,258.0 560.0,50.0 332.3,50.0" fill="#7EFF81"/>
<polygon points="333.2,56.0 332.9,60.0 332.7,64.0 332.4,68.0 332.2,72.0 331.9,76.0 331.7,80.0 331.4,84.0 331.2,88.0 330.9,92.0 330.7,96.0 330.4,100.0 330.2,104.0 329.9,108.0 329.7,112.0 329.4,116.0 329.2,120.0 328.9,124.0 328.7,128.0 328.4,132.0 328.2,136.0 327.9,140.0 327.7,144.0 327.4,148.0 327.2,152.0 327.0,156.0 326.7,160.0 326.5,164.0 326.2,168.0 326.0,172.0 325.8,176.0 325.5,180.0 325.3,184.0 325.1,188.0 324.9,192.0 324.7,196.0 324.4,200.0 324.2,204.0 324.0,208.0 323.8,212.0 323.6,216.0 323.4,220.0 323.3,224.0 323.1,228.0 322.9,232.0 322.8,236.0 322.6,240.0 322.5,244.0 322.4,248.0 322.3,252.0 322.3,258.0 560.0,258.0 560.0,50.0 333.2,50.0" fill="#A0FF5F"/>
<polygon points="334.1,56.0 333.8,60.0 333.6,64.0 333.3,68.0 333.0,72.0 332.8,76.0 332.5,80.0 332.2,84.0 332.0,88.0 331.7,92.0 331.4,96.0 331.1,100.0 330.9,104.0 330.6,108.0 330.3,112.0 330.1,116.0 329.8,120.0 329.5,124.0 329.3,128.0 329.0,132.0 328.7,136.0 328.5,140.0 328.2,144.0 328.0,148.0 327.7,152.0 327.4,156.0 327.2,160.0 326.9,164.0 326.7,168.0 326.4,172.0 326.2,176.0 325.9,180.0 325.7,184.0 325.4,188.0 325.2,192.0 325.0,196.0 324.7,200.0 324.5,204.0 324.3,208.0 324.1,212.0 323.9,216.0 323.7,220.0 323.5,224.0 323.3,228.0 323.1,232.0 323.0,236.0 322.8,240.0 322.7,244.0 322.6,248.0 322.5,252.0 322.5,258.0 560.0,258.0 560.0,50.0 334.1,50.0" fill="#C1FF3E"/>
<polygon points="335.0,56.0 334.8,60.0 334.5,64.0 334.2,68.0 333.9,72.0 333.6,76.0 333.3,80.0 333.0,84.0 332.7,88.0 332.4,92.0 332.2,96.0 331.9,100.0 331.6,104.0 331.3,108.0 331.0,112.0 330.7,116.0 330.4,120.0 330.2,124.0 329.9,128.0 329.6,132.0 329.3,136.0 329.0,140.0 328.7,144.0 328.5,148.0 328.2,152.0 327.9,156.0 327.6,160.0 327.4,164.0 327.1,168.0 326.8,172.0 326.6,176.0 326.3,180.0 326.1,184.0 325.8,188.0 325.5,192.0 325.3,196.0 325.1,200.0 324.8,204.0 324.6,208.0 324.4,212.0 324.1,216.0 323.9,220.0 323.7,224.0 323.6,228.0 323.4,232.0 323.2,236.0 323.1,240.0 322.9,244.0 322.8,248.0 322.7,252.0 322.7,258.0 560.0,258.0 560.0,50.0 335.0,50.0" fill="#E3FF1C"/>
<polygon points="337.0,56.0 336.7,60.0 336.4,64.0 336.0,68.0 335.7,72.0 335.4,76.0 335.0,80.0 334.7,84.0 334.4,88.0 334.1,92.0 333.7,96.0 333.4,100.0 333.1,104.0 332.8,108.0 332.4,112.0 332.1,116.0 331.8,120.0 331.5,124.0 331.1,128.0 330.8,132.0 330.5,136.0 330.2,140.0 329.9,144.0 329.6,148.0 329.2,152.0 328.9,156.0 328.6,160.0 328.3,164.0 328.0,168.0 327.7,172.0 327.4,176.0 327.1,180.0 326.8,184.0 326.5,188.0 326.3,192.0 326.0,196.0 325.7,200.0 325.5,204.0 325.2,208.0 324.9,212.0 324.7,216.0 324.5,220.0 324.3,224.0 324.0,228.0 323.9,232.0 323.7,236.0 323.5,240.0 323.4,244.0 323.2,248.0 323.1,252.0 323.1,258.0 560.0,258.0 560.0,50.0 337.0,50.0" fill="#FFFA00"/>
<polygon points="339.5,56.0 339.1,60.0 338.7,64.0 338.4,68.0 338.0,72.0 337.6,76.0 337.2,80.0 336.9,84.0 336.5,88.0 336.1,92.0 335.7,96.0 335.4,100.0 335.0,104.0 334.6,108.0 334.2,112.0 333.9,116.0 333.5,120.0 333.1,124.0 332.8,128.0 332.4,132.0 332.0,136.0 331.7,140.0 331.3,144.0 330.9,148.0 330.6,152.0 330.2,156.0 329.9,160.0 329.5,164.0 329.2,168.0 328.8,172.0 328.5,176.0 328.2,180.0 327.8,184.0 327.5,188.0 327.2,192.0 326.9,196.0 326.6,200.0 326.3,204.0 326.0,208.0 325.7,212.0 325.4,216.0 325.2,220.0 324.9,224.0 324.7,228.0 324.5,232.0 324.3,236.0 324.1,240.0 324.0,244.0 323.8,248.0 323.7,252.0 323.7,258.0 560.0,258.0 560.0,50.0 339.5,50.0" fill="#FFD800"/>
<polygon points="342.0,56.0 341.5,60.0 341.1,64.0 340.7,68.0 340.3,72.0 339.8,76.0 339.4,80.0 339.0,84.0 338.6,88.0 338.1,92.0 337.7,96.0 337.3,100.0 336.9,104.0 336.5,108.0 336.0,112.0 335.6,116.0 335.2,120.0 334.8,124.0 334.4,128.0 334.0,132.0 333.5,136.0 333.1,140.0 332.7,144.0 332.3,148.0 331.9,152.0 331.5,156.0 331.1,160.0 330.7,164.0 330.3,168.0 330.0,172.0 329.6,176.0 329.2,180.0 328.8,184.0 328.5,188.0 328.1,192.0 327.8,196.0 327.4,200.0 327.1,204.0 326.8,208.0 326.5,212.0 326.2,216.0 325.9,220.0 325.6,224.0 325.4,228.0 325.1,232.0 324.9,236.0 324.7,240.0 324.6,244.0 324.5,248.0 324.4,252.0 324.4,258.0 560.0,258.0 560.0,50.0 342.0,50.0" fill="#FFB700"/>
<polygon points="345.0,56.0 344.5,60.0 344.0,64.0 343.5,68.0 343.0,72.0 342.5,76.0 342.1,80.0 341.6,84.0 341.1,88.0 340.6,92.0 340.1,96.0 339.6,100.0 339.2,104.0 338.7,108.0 338.2,112.0 337.7,116.0 337.3,120.0 336.8,124.0 336.3,128.0 335.8,132.0 335.4,136.0 334.9,140.0 334.5,144.0 334.0,148.0 333.5,152.0 333.1,156.0 332.6,160.0 332.2,164.0 331.7,168.0 331.3,172.0 330.9,176.0 330.5,180.0 330.0,184.0 329.6,188.0 329.2,192.0 328.8,196.0 328.5,200.0 328.1,204.0 327.7,208.0 327.4,212.0 327.1,216.0 326.8,220.0 326.5,224.0 326.2,228.0 325.9,232.0 325.7,236.0 325.5,240.0 325.4,244.0 325.3,248.0 325.2,252.0 325.2,258.0 560.0,258.0 560.0,50.0 345.0,50.0" fill="#FF9500"/>
<polygon points="348.0,56.0 347.4,60.0 346.9,64.0 346.3,68.0 345.8,72.0 345.2,76.0 344.7,80.0 344.2,84.0 343.6,88.0 343.1,92.0 342.5,96.0 342.0,100.0 341.5,104.0 340.9,108.0 340.4,112.0 339.9,116.0 339.3,120.0 338.8,124.0 338.3,128.0 337.7,132.0 337.2,136.0 336.7,140.0 336.2,144.0 335.7,148.0 335.2,152.0 334.7,156.0 334.1,160.0 333.7,164.0 333.2,168.0 332.7,172.0 332.2,176.0 331.7,180.0 331.3,184.0 330.8,188.0 330.4,192.0 329.9,196.0 329.5,200.0 329.1,204.0 328.7,208.0 328.3,212.0 328.0,216.0 327.6,220.0 327.3,224.0 327.0,228.0 326.8,232.0 326.6,236.0 326.4,240.0 326.2,244.0 326.1,248.0 326.0,252.0 326.0,258.0 560.0,258.0 560.0,50.0 348.0,50.0" fill="#FF7400"/>
<polygon points="351.5,56.0 350.9,60.0 350.2,64.0 349.6,68.0 349.0,72.0 348.4,76.0 347.8,80.0 347.2,84.0 346.6,88.0 346.0,92.0 345.4,96.0 344.8,100.0 344.2,104.0 343.5,108.0 342.9,112.0 342.3,116.0 341.7,120.0 341.2,124.0 340.6,128.0 340.0,132.0 339.4,136.0 338.8,140.0 338.2,144.0 337.6,148.0 337.1,152.0 336.5,156.0 335.9,160.0 335.4,164.0 334.8,168.0 334.3,172.0 333.7,176.0 333.2,180.0 332.7,184.0 332.2,188.0 331.7,192.0 331.2,196.0 330.8,200.0 330.3,204.0 329.9,208.0 329.5,212.0 329.1,216.0 328.7,220.0 328.4,224.0 328.1,228.0 327.8,232.0 327.6,236.0 327.4,240.0 327.2,244.0 327.1,248.0 327.1,252.0 327.1,258.0 560.0,258.0 560.0,50.0 351.5,50.0" fill="#FF5200"/>
<polygon points="355.5,56.0 354.8,60.0 354.1,64.0 353.4,68.0 352.7,72.0 352.0,76.0 351.3,80.0 350.7,84.0 350.0,88.0 349.3,92.0 348.6,96.0 347.9,100.0 347.2,104.0 346.6,108.0 345.9,112.0 345.2,116.0 344.5,120.0 343.9,124.0 343.2,128.0 342.5,132.0 341.9,136.0 341.2,140.0 340.5,144.0 339.9,148.0 339.3,152.0 338.6,156.0 338.0,160.0 337.4,164.0 336.7,168.0 336.1,172.0 335.5,176.0 334.9,180.0 334.4,184.0 333.8,188.0 333.3,192.0 332.7,196.0 332.2,200.0 331.7,204.0 331.2,208.0 330.8,212.0 330.4,216.0 330.0,220.0 329.6,224.0 329.3,228.0 329.0,232.0 328.8,236.0 328.6,240.0 328.5,244.0 328.4,248.0 328.4,252.0 328.4,258.0 560.0,258.0 560.0,50.0 355.5,50.0" fill="#FF3100"/>
<polygon points="360.0,56.0 359.3,60.0 358.5,64.0 357.7,68.0 356.9,72.0 356.1,76.0 355.4,80.0 354.6,84.0 353.8,88.0 353.0,92.0 352.3,96.0 351.5,100.0 350.7,104.0 350.0,108.0 349.2,112.0 348.4,116.0 347.7,120.0 346.9,124.0 346.2,128.0 345.4,132.0 344.7,136.0 343.9,140.0 343.2,144.0 342.5,148.0 341.7,152.0 341.0,156.0 340.3,160.0 339.6,164.0 338.9,168.0 338.2,172.0 337.6,176.0 336.9,180.0 336.3,184.0 335.6,188.0 335.0,192.0 334.4,196.0 333.9,200.0 333.3,204.0 332.8,208.0 332.3,212.0 331.9,216.0 331.4,220.0 331.1,224.0 330.7,228.0 330.4,232.0 330.2,236.0 330.0,240.0 329.9,244.0 329.9,248.0 329.9,252.0 329.9,258.0 560.0,258.0 560.0,50.0 360.0,50.0" fill="#FF1000"/>
<polygon points="366.0,56.0 365.1,60.0 364.2,64.0 363.3,68.0 362.4,72.0 361.5,76.0 360.6,80.0 359.8,84.0 358.9,88.0 358.0,92.0 357.1,96.0 356.2,100.0 355.3,104.0 354.4,108.0 353.6,112.0 352.7,116.0 351.8,120.0 350.9,124.0 350.1,128.0 349.2,132.0 348.4,136.0 347.5,140.0 346.7,144.0 345.8,148.0 345.0,152.0 344.2,156.0 343.4,160.0 342.6,164.0 341.8,168.0 341.0,172.0 340.3,176.0 339.5,180.0 338.8,184.0 338.1,188.0 337.4,192.0 336.7,196.0 336.1,200.0 335.5,204.0 334.9,208.0 334.4,212.0 333.9,216.0 333.4,220.0 333.0,224.0 332.7,228.0 332.4,232.0 332.2,236.0 332.0,240.0 331.9,244.0 332.0,248.0 332.1,252.0 332.1,258.0 560.0,258.0 560.0,50.0 366.0,50.0" fill="#ED0000"/>
<polygon points="404.5,120.0 404.5,136.4 404.7,136.8 405.1,137.6 405.7,138.8 406.1,139.6 406.5,140.4 407.0,141.3 407.5,142.2 408.0,143.1 408.6,144.0 409.0,144.7 409.4,145.4 409.9,146.0 410.4,146.9 410.8,147.8 411.3,148.7 411.8,149.5 412.3,150.4 412.8,151.3 413.3,152.1 413.8,153.0 414.3,153.9 414.8,154.7 415.3,155.6 415.8,156.3 416.3,156.9 416.8,157.5 417.3,158.2 417.8,158.8 418.3,159.3 418.8,159.9 419.3,160.5 419.8,161.0 420.2,161.5 420.9,162.4 421.6,163.4 422.3,164.5 423.0,165.5 423.7,166.6 424.5,167.7 425.0,168.5 425.6,169.3 426.2,170.0 426.8,170.6 427.4,171.1 428.0,171.6 428.7,172.1 429.3,172.6 430.0,173.1 430.7,173.6 431.4,174.0 432.1,174.8 432.8,175.7 433.6,176.6 434.3,177.6 435.1,178.5 435.8,179.5 436.6,180.4 437.2,181.1 437.8,181.4 438.4,181.7 439.0,182.1 439.8,182.5 440.5,182.9 441.3,183.3 442.0,183.7 442.7,184.3 443.4,185.2 444.1,186.0 444.7,186.9 445.4,187.7 446.0,188.5 446.6,189.3 447.2,190.1 447.8,190.8 448.4,191.2 449.0,191.5 449.9,192.0 450.8,192.4 451.6,192.8 452.4,193.3 453.2,193.6 454.1,194.5 454.9,195.3 455.7,196.2 456.5,197.0 457.3,197.9 458.1,198.6 458.9,199.3 459.7,199.5 460.5,199.7 461.3,199.9 462.1,200.1 462.9,200.3 463.7,200.5 464.6,200.9 465.4,201.6 466.2,202.2 467.0,202.9 467.8,203.6 468.7,204.3 469.5,205.0 470.3,205.2 471.1,205.4 471.9,205.6 472.6,205.8 473.4,206.0 474.2,206.2 475.0,206.5 475.8,207.1 476.6,207.8 477.3,208.4 478.1,209.0 478.9,209.6 479.7,210.2 480.5,210.7 481.3,210.8 482.1,210.9 482.9,211.0 483.7,211.2 484.5,211.3 485.4,211.4 486.2,211.9 487.0,212.5 487.8,213.2 488.7,213.8 489.5,214.5 490.3,215.1 491.1,215.7 491.9,215.7 492.8,215.8 493.7,215.7 494.6,215.7 495.7,215.6 496.7,215.6 497.9,216.2 499.1,216.8 499.9,217.2 500.8,217.6 501.6,218.0 502.4,218.2 503.2,218.0 504.0,217.9 505.1,217.8 506.3,217.8 507.3,217.7 508.3,218.3 509.2,219.0 510.2,219.7 511.1,220.4 512.1,221.1 513.1,221.7 514.0,221.8 515.0,221.9 516.0,222.0 517.0,222.2 518.0,222.3 518.8,222.7 519.5,223.3 520.5,224.1 521.0,224.5 530.0,224.5 530.0,120.0" fill="#FF1000"/>
<rect x="500" y="250.3" width="30" height="2.3" fill="#B84A00"/>
<polygon points="330.6,249.3 330.9,248.3 331.1,247.4 331.4,246.4 331.7,245.4 332.0,244.4 332.3,243.5 332.6,242.5 332.8,241.5 333.1,240.5 333.4,239.5 333.7,238.5 334.0,237.5 334.3,236.5 334.5,235.6 334.8,234.6 335.1,233.6 335.3,232.7 335.6,231.8 335.8,230.9 336.1,230.1 336.3,229.2 336.5,228.4 336.7,227.6 337.0,226.8 337.2,225.8 337.5,224.7 337.8,223.8 338.0,222.9 338.2,221.9 338.4,221.1 338.5,220.3 338.7,219.5 338.9,218.7 339.1,217.7 339.3,216.8 339.5,215.8 339.7,214.9 339.9,214.0 340.1,213.1 340.2,212.3 340.4,211.4 340.6,210.5 340.8,209.6 340.9,208.7 341.1,207.8 341.3,206.9 341.5,206.0 341.7,205.1 341.8,204.1 342.0,203.2 342.2,202.3 342.4,201.3 342.5,200.5 342.7,199.7 342.8,198.9 343.0,198.1 343.1,197.3 343.3,196.5 343.4,195.7 343.6,194.8 343.8,194.0 343.9,193.2 344.1,192.3 344.2,191.5 344.4,190.7 344.5,189.8 344.7,189.0 344.8,188.2 345.0,187.3 345.1,186.5 345.3,185.7 345.4,184.8 345.6,184.0 345.8,183.2 345.9,182.3 346.1,181.5 346.2,180.7 346.4,179.8 346.5,179.0 346.7,178.2 346.8,177.3 347.0,176.5 347.1,175.7 347.3,174.8 347.5,174.0 347.6,173.2 347.8,172.3 347.9,171.5 348.1,170.7 348.3,169.8 348.4,169.0 348.6,168.2 348.8,167.3 348.9,166.5 349.1,165.7 349.3,164.8 349.5,164.0 349.7,163.2 349.9,162.3 350.1,161.5 350.3,160.7 350.5,159.8 350.7,159.0 350.9,158.2 351.1,157.3 351.3,156.5 351.5,155.7 351.7,154.8 352.0,154.0 352.2,153.2 352.4,152.3 352.6,151.5 352.8,150.7 353.1,149.8 353.3,149.0 353.5,148.2 353.7,147.3 353.9,146.5 354.2,145.7 354.4,144.8 354.6,144.0 354.8,143.2 355.1,142.3 355.3,141.5 355.5,140.7 355.7,139.8 356.0,139.0 356.2,138.2 356.4,137.3 356.6,136.5 356.9,135.7 357.1,134.8 357.3,134.0 357.5,133.2 357.8,132.3 358.0,131.5 358.2,130.6 358.4,129.7 358.7,128.8 358.9,127.9 359.1,127.0 359.3,126.1 359.5,125.3 359.7,124.5 359.9,123.7 360.1,122.9 360.3,122.0 360.5,121.2 360.7,120.4 360.9,119.5 361.1,118.7 361.3,117.8 361.5,116.9 361.7,116.1 361.9,115.2 362.1,114.3 362.3,113.5 362.5,112.7 362.7,111.9 362.9,111.1 363.0,110.3 363.2,109.5 363.4,108.7 363.6,107.9 363.8,107.0 364.0,106.1 364.2,105.2 364.4,104.3 364.6,103.4 364.8,102.6 365.1,101.7 365.3,100.9 365.5,100.0 365.7,99.2 366.0,98.4 366.2,97.6 366.4,96.8 366.7,96.1 366.9,95.3 367.4,94.3 367.8,93.4 368.2,92.4 368.5,91.5 368.9,90.6 369.3,89.7 369.6,88.8 369.9,87.9 370.2,87.0 370.6,86.1 370.9,85.3 371.2,84.5 371.7,83.2 372.3,81.9 372.8,80.9 373.3,80.2 373.8,79.8 374.2,79.8 374.7,80.1 375.1,80.5 375.5,81.1 375.8,81.8 376.2,82.7 376.7,84.0 377.0,84.9 377.4,85.8 377.7,86.6 378.0,87.4 378.2,88.1 378.6,89.0 378.9,90.0 379.3,90.9 379.6,91.7 379.9,92.4 380.2,93.2 380.5,94.0 380.8,94.9 381.1,95.8 381.5,96.6 381.8,97.5 382.1,98.3 382.4,99.0 382.7,99.8 383.0,100.6 383.3,101.4 383.6,102.2 384.0,103.1 384.3,103.9 384.7,104.8 385.0,105.6 385.3,106.5 385.7,107.3 386.0,108.2 386.3,109.1 386.7,109.9 387.0,110.8 387.3,111.7 387.7,112.6 388.0,113.4 388.3,114.3 388.7,115.2 389.0,116.1 389.3,117.0 389.7,117.9 390.0,118.8 390.3,119.5 390.6,120.2 390.9,121.0 391.1,121.8 391.4,122.5 391.7,123.2 392.0,124.1 392.3,124.9 392.7,125.7 393.0,126.5 393.3,127.3 393.6,128.1 393.9,129.0 394.2,129.7 394.6,130.4 394.9,131.1 395.2,131.9 395.6,132.7 396.0,133.5 396.4,134.3 396.7,135.0 397.1,135.7 397.5,136.4 397.8,137.1 398.3,138.0 398.8,138.9 399.3,139.8 399.8,140.8 400.2,141.7 400.7,142.7 401.2,143.6 401.7,144.5 402.2,145.5 402.7,146.4 403.1,147.3 403.6,148.2 404.1,149.1 404.6,150.0 405.2,150.8 405.7,151.6 406.2,152.4 406.8,153.2 407.3,153.9 407.9,154.7 408.4,155.4 409.0,156.2 409.6,156.9 410.2,157.6 410.8,158.5 411.4,159.3 411.9,160.2 412.5,161.0 413.1,161.8 413.7,162.6 414.3,163.5 414.9,164.3 415.5,165.0 416.1,165.7 416.7,166.3 417.3,166.9 417.9,167.5 418.4,168.1 419.0,168.7 419.5,169.3 420.0,169.9 420.5,170.5 421.2,171.5 421.9,172.5 422.5,173.6 423.1,174.6 423.8,175.7 424.5,176.7 425.2,177.7 425.9,178.8 426.7,179.6 427.5,180.4 428.0,180.9 428.6,181.4 429.1,181.8 429.7,182.3 430.3,182.7 430.8,183.2 431.4,183.6 432.0,184.2 432.6,184.9 433.2,185.6 433.8,186.2 434.5,186.9 435.1,187.6 435.7,188.2 436.3,188.9 437.0,189.5 437.6,189.9 438.3,190.2 439.2,190.7 440.2,191.1 441.2,191.5 442.1,191.9 443.1,192.5 444.1,193.3 445.1,194.1 446.0,194.8 447.0,195.6 448.0,196.3 449.0,196.6 450.0,197.0 451.0,197.3 452.0,197.6 453.0,198.1 454.0,198.8 454.7,199.5 455.3,200.2 456.0,200.8 456.6,201.6 457.3,202.3 458.0,203.1 458.6,203.9 459.3,204.5 459.9,205.0 460.6,205.5 461.2,205.9 461.8,206.4 462.7,207.0 463.5,207.6 464.4,208.3 465.2,209.1 466.0,209.9 466.7,210.7 467.5,211.5 468.3,212.2 469.1,213.0 469.9,213.6 470.7,214.1 471.5,214.5 472.4,214.9 473.3,215.3 474.2,215.7 475.2,216.3 475.9,216.8 476.6,217.4 477.3,218.0 478.1,218.6 478.9,219.2 479.7,219.8 480.5,220.4 481.4,220.6 482.2,220.9 483.0,221.1 483.8,221.4 484.6,221.7 485.3,221.9 486.0,222.2 486.7,222.8 487.6,223.6 488.5,224.4 489.3,225.1 490.1,225.9 490.9,226.6 491.7,227.1 492.5,227.4 493.3,227.8 494.1,228.1 494.9,228.4 495.8,228.7 496.6,229.0 497.4,229.6 498.2,230.2 498.9,230.7 499.7,231.2 500.5,231.7 501.2,232.1 502.8,232.5 504.1,232.5 505.5,232.6 506.7,232.6 507.8,232.8 508.8,233.4 509.7,234.0 510.6,234.8 511.4,235.6 511.8,236.4 511.9,237.2 511.6,238.0 511.0,238.8 510.2,239.5 509.3,240.3 508.3,241.0 507.2,241.8 506.4,242.1 505.5,242.5 504.4,242.9 503.4,243.3 502.5,243.6 501.6,243.9 500.7,244.2 499.9,244.5 499.0,244.7 498.2,244.9 497.4,245.2 496.6,245.4 495.8,245.6 494.9,245.9 494.1,246.1 493.2,246.3 492.4,246.6 491.5,246.8 490.6,247.0 489.7,247.3 488.8,247.5 487.9,247.7 487.0,247.9 486.1,248.2 485.1,248.4 484.2,248.6 483.3,248.8 482.4,249.0 481.5,249.2 480.6,249.4 479.7,249.6 478.8,249.8 478.0,249.9 477.1,250.1 476.2,250.3 475.4,250.4 474.6,250.5 473.8,250.7 472.9,250.8 472.1,250.9 471.4,251.0 470.6,251.1 469.8,251.2 468.9,251.3 468.1,251.4 467.3,251.5 466.4,251.6 465.6,251.6 464.7,251.7 463.8,251.8 463.0,251.9 462.1,251.9 461.2,252.0 460.3,252.0 459.4,252.1 458.4,252.2 457.5,252.2 456.6,252.2 455.6,252.3 454.8,252.3 453.9,252.4 453.1,252.4 452.2,252.4 451.4,252.4 450.5,252.5 449.7,252.5 448.9,252.5 448.1,252.5 447.2,252.6 446.4,252.6 445.6,252.6 444.8,252.6 444.0,252.7 443.2,252.7 442.4,252.7 441.6,252.7 440.7,252.7 439.8,252.8 439.0,252.8 438.1,252.8 437.3,252.8 436.4,252.8 435.5,252.8 434.7,252.9 433.8,252.9 433.0,252.9 432.1,252.9 431.2,252.9 430.4,253.0 429.6,253.0 428.8,253.0 427.9,253.0 427.1,253.0 426.2,253.0 425.4,253.0 424.6,253.1 423.8,253.1 422.9,253.1 422.1,253.1 421.2,253.1 420.4,253.1 419.6,253.1 418.8,253.2 417.9,253.2 417.1,253.2 416.2,253.2 415.4,253.2 414.6,253.2 413.8,253.2 412.9,253.2 412.1,253.3 411.2,253.3 410.4,253.3 409.6,253.3 408.8,253.3 407.9,253.3 407.1,253.3 406.2,253.3 405.4,253.4 404.6,253.4 403.8,253.4 402.9,253.4 402.1,253.4 401.2,253.4 400.4,253.4 399.6,253.4 398.8,253.4 397.9,253.4 397.1,253.4 396.2,253.5 395.4,253.5 394.6,253.5 393.8,253.5 392.9,253.5 392.1,253.5 391.2,253.5 390.4,253.5 389.6,253.5 388.8,253.5 387.9,253.5 387.1,253.5 386.2,253.5 385.4,253.5 384.6,253.6 383.8,253.6 382.9,253.6 382.1,253.6 381.2,253.6 380.4,253.6 379.6,253.6 378.8,253.6 377.9,253.6 377.1,253.6 376.2,253.6 375.4,253.6 374.6,253.6 373.8,253.6 372.9,253.6 372.1,253.6 371.2,253.6 370.4,253.6 369.6,253.6 368.8,253.6 367.9,253.6 367.1,253.6 366.3,253.6 365.5,253.6 364.6,253.6 363.8,253.6 363.0,253.6 362.2,253.6 361.4,253.7 360.5,253.7 359.7,253.7 358.9,253.7 358.1,253.7 357.3,253.7 356.5,253.7 355.7,253.7 354.9,253.7 354.1,253.7 353.3,253.7 352.5,253.7 351.7,253.7 350.9,253.7 350.0,253.7 349.2,253.7 348.4,253.7 347.5,253.7 346.6,253.7 345.7,253.7 344.9,253.7 344.0,253.7 343.1,253.7 342.2,253.7 341.4,253.7 340.5,253.7 339.6,253.7 338.8,253.7 337.9,253.7 337.1,253.7 336.1,253.5 335.2,253.3 334.3,253.2 333.4,253.0 332.7,252.5 332.0,252.0 331.2,251.5 330.9,250.4" fill="#CC0000"/>
<polygon points="336.2,249.1 336.7,246.3 337.3,243.8 337.8,241.6 338.4,239.8 338.9,238.2 339.3,236.9 339.7,235.6 340.1,234.4 340.5,233.3 340.9,232.1 341.4,230.6 342.0,229.0 342.8,227.3 343.6,224.6 344.6,221.2 345.8,216.9 347.0,211.7 348.4,206.6 349.7,201.5 351.1,196.5 352.4,191.5 353.8,186.5 355.2,181.5 356.6,176.5 357.9,171.5 359.4,166.5 361.0,161.5 362.8,156.5 364.6,151.5 366.4,146.6 368.2,141.8 370.0,137.1 371.7,132.4 373.1,128.7 374.2,125.9 375.0,123.9 375.5,122.9 376.0,122.1 376.4,121.6 376.9,121.3 377.3,121.3 377.8,121.5 378.3,121.9 378.8,122.5 379.2,123.3 380.0,124.6 380.9,126.3 382.0,128.4 383.3,131.1 384.5,133.4 385.4,135.5 386.2,137.2 386.8,138.8 387.6,140.4 388.5,142.2 389.6,144.1 390.9,146.2 392.4,148.7 394.0,151.4 395.8,154.3 397.7,157.7 399.5,160.6 401.3,163.3 403.0,165.6 404.6,167.5 406.2,169.6 407.6,171.6 408.9,173.8 410.2,175.9 411.6,178.1 413.2,180.2 414.9,182.3 416.9,184.4 418.7,186.3 420.4,188.0 422.1,189.4 423.6,190.5 425.2,191.9 427.0,193.5 428.9,195.4 430.9,197.4 432.9,199.3 434.7,201.1 436.4,202.8 438.1,204.2 439.7,205.7 441.3,207.1 442.9,208.4 444.6,209.7 446.1,210.9 447.6,212.0 449.1,213.0 450.5,213.9 452.2,215.2 454.2,216.7 456.5,218.6 459.0,220.7 461.3,222.6 463.3,224.1 465.0,225.3 466.4,226.2 467.8,227.0 469.3,227.8 470.8,228.6 472.2,229.4 473.6,230.1 474.8,230.9 475.9,231.6 476.9,232.4 477.6,233.2 478.2,234.0 478.6,234.8 478.7,235.7 478.7,236.6 478.6,237.6 478.2,238.7 477.8,239.8 477.1,240.9 476.4,241.9 475.6,242.9 474.6,243.9 473.3,244.8 471.5,245.8 469.3,246.8 466.8,247.7 464.0,248.6 461.1,249.2 458.1,249.7 454.8,250.1 451.2,250.4 447.1,250.7 442.5,251.0 437.5,251.2 431.9,251.5 425.6,251.7 418.8,252.0 411.2,252.2 403.8,252.4 396.2,252.7 388.8,252.8 381.2,253.0 374.4,253.1 368.1,253.2 362.5,253.3 357.5,253.3 352.8,253.4 348.5,253.4 344.5,253.4 340.8,253.4 338.2,252.7 336.6,251.3" fill="#AA0000"/>
<polygon points="380.0,170.8 379.2,171.9 378.3,173.2 377.4,174.6 376.3,176.2 375.2,178.1 374.0,180.1 372.8,182.4 371.6,185.0 370.4,187.8 369.1,190.6 367.9,193.6 366.7,196.5 365.6,199.5 364.2,203.0 362.8,206.9 361.1,211.3 359.4,216.1 357.8,220.9 356.3,225.4 355.0,229.9 353.9,234.3 353.1,237.8 352.5,240.4 352.3,242.2 352.3,243.1 352.5,243.9 352.7,244.7 353.1,245.4 353.6,245.9 354.3,246.4 355.3,246.9 356.4,247.2 357.9,247.5 359.5,247.7 361.4,247.9 363.6,248.1 366.0,248.3 368.8,248.4 371.9,248.5 375.4,248.6 379.2,248.7 382.7,248.8 385.9,248.8 388.6,248.8 391.1,248.9 394.5,248.8 398.8,248.7 404.2,248.6 410.5,248.3 416.3,248.1 421.5,247.7 426.2,247.4 430.4,246.9 433.9,246.6 436.9,246.2 439.2,245.9 440.9,245.6 442.4,245.3 443.7,245.0 444.8,244.6 445.7,244.3 446.4,243.7 446.9,243.1 447.2,242.3 447.4,241.4 447.3,240.4 447.1,239.3 446.6,238.2 446.0,237.1 445.3,236.0 444.6,235.0 443.8,234.2 443.0,233.4 441.8,232.5 440.3,231.3 438.4,229.9 436.1,228.4 434.1,227.0 432.3,225.9 430.8,225.0 429.5,224.2 427.9,223.1 426.0,221.4 423.7,219.3 421.2,216.8 418.7,214.3 416.4,212.1 414.2,209.9 412.0,208.0 410.2,206.2 408.6,204.6 407.2,203.1 406.1,201.9 404.8,200.3 403.3,198.3 401.7,196.1 400.0,193.4 398.3,191.0 396.7,188.7 395.1,186.6 393.7,184.7 392.2,182.7 390.6,180.6 389.1,178.4 387.4,176.1 386.1,174.2 385.0,172.7 384.2,171.5 383.6,170.7 383.1,170.1 382.6,169.6 382.2,169.4 381.8,169.3 381.3,169.5 380.7,170.0" fill="#890000"/>
<path d="M324.7 56.0 L321.9 188.0 L320.8 252.0" fill="none" stroke="#000" stroke-width="0.18"/>
<path d="M324.9 56.0 L322.0 188.0 L320.8 252.0" fill="none" stroke="#000" stroke-width="0.18"/>
<path d="M325.1 56.0 L322.1 188.0 L320.9 252.0" fill="none" stroke="#000" stroke-width="0.18"/>
<path d="M325.3 56.0 L322.2 188.0 L320.9 252.0" fill="none" stroke="#000" stroke-width="0.18"/>
<path d="M325.5 56.0 L322.2 188.0 L320.9 252.0" fill="none" stroke="#000" stroke-width="0.18"/>
<path d="M325.8 56.0 L322.3 188.0 L321.0 252.0" fill="none" stroke="#000" stroke-width="0.18"/>
<path d="M326.0 56.0 L322.4 188.0 L321.0 252.0" fill="none" stroke="#000" stroke-width="0.18"/>
<path d="M326.3 56.0 L322.5 188.0 L321.0 252.0" fill="none" stroke="#000" stroke-width="0.18"/>
<path d="M326.6 56.0 L322.6 188.0 L321.1 252.0" fill="none" stroke="#000" stroke-width="0.18"/>
<path d="M326.9 56.0 L322.7 188.0 L321.1 252.0" fill="none" stroke="#000" stroke-width="0.18"/>
<path d="M327.3 56.0 L322.9 188.0 L321.2 252.0" fill="none" stroke="#000" stroke-width="0.18"/>
<path d="M327.6 56.0 L323.0 188.0 L321.9 224.0 L321.2 252.0" fill="none" stroke="#000" stroke-width="0.18"/>
<path d="M328.0 56.0 L323.2 188.0 L322.0 224.0 L321.3 252.0" fill="none" stroke="#000" stroke-width="0.18"/>
<path d="M328.4 56.0 L323.3 188.0 L322.1 224.0 L321.4 252.0" fill="none" stroke="#000" stroke-width="0.18"/>
<path d="M328.9 56.0 L323.5 188.0 L322.2 224.0 L321.5 252.0" fill="none" stroke="#000" stroke-width="0.18"/>
<path d="M329.4 56.0 L323.7 188.0 L322.3 224.0 L321.5 252.0" fill="none" stroke="#000" stroke-width="0.18"/>
<path d="M329.9 56.0 L323.8 188.0 L322.4 224.0 L321.6 252.0" fill="none" stroke="#000" stroke-width="0.18"/>
<path d="M330.7 56.0 L324.2 188.0 L322.6 224.0 L321.8 252.0" fill="none" stroke="#000" stroke-width="0.18"/>
<path d="M331.4 56.0 L324.4 188.0 L322.8 224.0 L321.9 252.0" fill="none" stroke="#000" stroke-width="0.18"/>
<path d="M332.3 56.0 L324.7 188.0 L323.0 224.0 L322.1 252.0" fill="none" stroke="#000" stroke-width="0.18"/>
<path d="M333.2 56.0 L327.9 140.0 L325.1 188.0 L323.3 224.0 L322.3 252.0" fill="none" stroke="#000" stroke-width="0.18"/>
<path d="M334.1 56.0 L328.5 140.0 L325.4 188.0 L323.5 224.0 L322.5 252.0" fill="none" stroke="#000" stroke-width="0.18"/>
<path d="M335.0 56.0 L329.0 140.0 L325.8 188.0 L323.7 224.0 L322.7 252.0" fill="none" stroke="#000" stroke-width="0.45"/>
<path d="M337.0 56.0 L330.2 140.0 L326.5 188.0 L324.3 224.0 L323.5 240.0 L323.1 252.0" fill="none" stroke="#000" stroke-width="0.75"/>
<path d="M339.5 56.0 L331.7 140.0 L327.5 188.0 L324.9 224.0 L324.1 240.0 L323.7 252.0" fill="none" stroke="#000" stroke-width="0.75"/>
<path d="M342.0 56.0 L333.1 140.0 L328.5 188.0 L326.8 208.0 L325.6 224.0 L324.7 240.0 L324.4 252.0" fill="none" stroke="#000" stroke-width="0.75"/>
<path d="M345.0 56.0 L334.9 140.0 L329.6 188.0 L327.7 208.0 L326.5 224.0 L325.5 240.0 L325.2 252.0" fill="none" stroke="#000" stroke-width="0.75"/>
<path d="M348.0 56.0 L336.7 140.0 L333.2 168.0 L330.8 188.0 L328.7 208.0 L327.3 224.0 L326.4 240.0 L326.0 252.0" fill="none" stroke="#000" stroke-width="0.75"/>
<path d="M351.5 56.0 L338.8 140.0 L334.8 168.0 L332.2 188.0 L329.9 208.0 L328.4 224.0 L327.4 240.0 L327.1 252.0" fill="none" stroke="#000" stroke-width="0.75"/>
<path d="M355.5 56.0 L341.2 140.0 L336.7 168.0 L333.8 188.0 L331.2 208.0 L329.6 224.0 L328.6 240.0 L328.4 252.0" fill="none" stroke="#000" stroke-width="0.75"/>
<path d="M360.0 56.0 L350.7 104.0 L343.9 140.0 L338.9 168.0 L335.6 188.0 L332.8 208.0 L331.1 224.0 L330.4 232.0 L330.0 240.0 L329.9 252.0" fill="none" stroke="#000" stroke-width="0.75"/>
<path d="M366.0 56.0 L363.2 68.8" fill="none" stroke="#000" stroke-width="0.75"/>
<path d="M360.6 80.0 L350.9 124.0 L344.2 156.0 L339.5 180.0 L337.4 192.0 L335.6 203.2" fill="none" stroke="#000" stroke-width="0.75"/>
<path d="M334.1 214.4 L333.0 224.0 L332.2 236.0 L331.9 244.0 L332.1 252.0" fill="none" stroke="#000" stroke-width="0.75"/>
<path d="M404.5 136.4 L407.5 142.2 L409.9 146.0 L415.3 155.6 L420.9 162.4 L426.2 170.0 L431.4 174.0 L437.2 181.1 L442.0 183.7 L442.7 184.3 L447.8 190.8 L450.8 192.4 L453.2 193.6 L457.3 197.9 L458.9 199.3 L463.7 200.5 L464.6 200.9 L469.5 205.0 L475.0 206.5 L478.1 209.0 L480.5 210.7 L485.4 211.4 L486.2 211.9 L489.5 214.5" fill="none" stroke="#000" stroke-width="0.65"/>
<path d="M500.8 217.6 L501.6 218.0 L502.4 218.2 L507.3 217.7 L508.3 218.3 L513.1 221.7 L518.0 222.3 L518.8 222.7 L521.0 224.5" fill="none" stroke="#000" stroke-width="0.65"/>
<path d="M330.6 249.3 L336.7 227.6" fill="none" stroke="#000" stroke-width="0.7"/>
<path d="M339.5 215.8 L342.4 201.3 L347.9 171.5 L350.1 161.5 L359.3 126.1 L364.8 102.6 L366.7 96.1" fill="none" stroke="#000" stroke-width="0.7"/>
<path d="M371.2 84.5 L372.3 81.9 L373.3 80.2 L373.8 79.8 L374.2 79.8 L375.1 80.5 L375.5 81.1 L393.9 129.0 L396.4 134.3 L402.2 145.5 L404.6 150.0 L406.8 153.2 L410.2 157.6 L415.5 165.0 L420.5 170.5 L425.9 178.8 L427.5 180.4" fill="none" stroke="#000" stroke-width="0.7"/>
<path d="M436.3 188.9 L437.0 189.5 L438.3 190.2 L442.1 191.9 L448.0 196.3 L453.0 198.1 L454.0 198.8 L456.0 200.8 L458.6 203.9 L464.4 208.3 L469.1 213.0 L469.9 213.6 L475.2 216.3 L480.5 220.4 L484.6 221.7 L486.0 222.2 L490.9 226.6 L491.7 227.1 L496.6 229.0 L499.7 231.2 L501.2 232.1 L502.8 232.5 L506.7 232.6 L507.8 232.8 L509.7 234.0 L511.4 235.6 L511.8 236.4 L511.9 237.2 L511.6 238.0 L511.0 238.8 L509.3 240.3 L507.2 241.8 L503.4 243.3 L497.4 245.2 L487.0 247.9 L479.7 249.6 L472.9 250.8 L469.8 251.2 L463.0 251.9 L455.6 252.3 L431.2 252.9 L406.2 253.3 L381.2 253.6 L337.1 253.7 L333.4 253.0 L331.2 251.5 L330.6 249.3" fill="none" stroke="#000" stroke-width="0.7"/>
<path d="M336.2 249.1 L337.3 243.8 L338.4 239.8 L341.7 229.8" fill="none" stroke="#000" stroke-width="0.7"/>
<path d="M345.2 219.0 L351.1 196.5 L359.4 166.5 L362.8 156.5 L371.7 132.4 L375.5 122.9 L376.0 122.1 L376.9 121.3 L377.8 121.5 L378.8 122.5 L382.0 128.4 L385.4 135.5" fill="none" stroke="#000" stroke-width="0.7"/>
<path d="M390.9 146.2 L397.7 157.7 L401.3 163.3 L406.2 169.6 L407.6 171.6 L411.6 178.1 L413.2 180.2 L414.9 182.3 L418.7 186.3 L427.0 193.5 L436.4 202.8 L442.9 208.4 L446.1 210.9 L452.2 215.2 L461.3 222.6 L465.0 225.3 L467.8 227.0 L474.8 230.9" fill="none" stroke="#000" stroke-width="0.7"/>
<path d="M476.4 241.9 L474.6 243.9 L473.3 244.8 L471.5 245.8 L466.8 247.7 L464.0 248.6 L458.1 249.7 L451.2 250.4 L442.5 251.0 L418.8 252.0 L396.2 252.7 L368.1 253.2 L340.8 253.4 L338.2 252.7 L336.6 251.3 L336.2 249.1" fill="none" stroke="#000" stroke-width="0.7"/>
<path d="M380.0 170.8 L377.4 174.6 L375.2 178.1 L372.8 182.4 L369.1 190.6 L365.6 199.5 L359.4 216.1 L356.3 225.4 L353.9 234.3 L352.9 238.6 L352.3 242.2 L352.3 243.1 L352.7 244.7 L353.6 245.9 L354.3 246.4 L356.4 247.2 L359.5 247.7 L363.6 248.1 L379.2 248.7" fill="none" stroke="#000" stroke-width="0.7"/>
<path d="M391.1 248.9 L404.2 248.6 L416.3 248.1 L426.2 247.4 L433.9 246.6 L439.2 245.9 L443.7 245.0 L445.7 244.3 L446.4 243.7 L446.9 243.1 L447.2 242.3 L447.4 241.4 L447.3 240.4 L446.6 238.2 L445.3 236.0 L443.8 234.2 L441.8 232.5 L438.4 229.9 L434.1 227.0 L429.5 224.2 L426.0 221.4 L407.2 203.1 L404.8 200.3 L400.9 194.8" fill="none" stroke="#000" stroke-width="0.7"/>
<path d="M393.7 184.7 L383.1 170.1 L382.6 169.6 L381.8 169.3 L381.3 169.5 L380.0 170.8" fill="none" stroke="#000" stroke-width="0.7"/>
<path d="M324 253.9 H454.3 V252.4 H522" fill="none" stroke="#000" stroke-width="1.6"/>
<linearGradient id="gl" x1="0" x2="0" y1="0" y2="1"><stop offset="0" stop-color="#000" stop-opacity="0.75"/><stop offset="0.2" stop-color="#000" stop-opacity="0.9"/><stop offset="1" stop-color="#000" stop-opacity="0.92"/></linearGradient>
<rect x="324.7" y="58" width="3.4" height="197" fill="url(#gl)"/>
</g>
<g font-family="'Liberation Sans', sans-serif" font-size="10" text-anchor="middle" fill="#000" stroke="#000" stroke-width="0.25">
<text transform="translate(369.0 90.5) rotate(-70)" y="3.6">95</text>
<text transform="translate(387.7 141.0) rotate(63)" y="3.6">96</text>
<text transform="translate(431.6 184.5) rotate(40)" y="3.6">95</text>
<text transform="translate(397.4 189.7) rotate(41)" y="3.6">97</text>
<text transform="translate(495.2 216.1) rotate(24)" y="3.6">94</text>
<text transform="translate(477.0 236.3) rotate(-80)" y="3.6">96</text>
<text transform="translate(385.0 248.3) rotate(0)" y="3.6">97</text>
<text transform="translate(416.6 252.4) rotate(0)" y="3.6">94</text>
<text transform="translate(338.0 221.4) rotate(-76)" y="3.6">95</text>
<text transform="translate(344.0 224.6) rotate(-74)" y="3.6">96</text>
<text transform="translate(335.8 209.0) rotate(-72)" y="3.6">94</text>
<text transform="translate(363.0 74.5) rotate(-74)" y="3.6">94</text>
<text transform="translate(334.1 69.6) rotate(-86)" y="3.6" stroke-width="0.5">85</text>
<text transform="translate(335.8 70.3) rotate(-85)" y="3.6" stroke-width="0.5">86</text>
<text transform="translate(338.1 71.0) rotate(-85)" y="3.6" stroke-width="0.5">87</text>
<text transform="translate(340.3 71.8) rotate(-84)" y="3.6" stroke-width="0.5">88</text>
<text transform="translate(343.0 72.5) rotate(-83)" y="3.6" stroke-width="0.5">89</text>
<text transform="translate(345.6 73.2) rotate(-82)" y="3.6" stroke-width="0.5">90</text>
<text transform="translate(348.7 73.9) rotate(-81)" y="3.6" stroke-width="0.5">91</text>
<text transform="translate(352.3 74.6) rotate(-80)" y="3.6" stroke-width="0.5">92</text>
<text transform="translate(356.3 75.4) rotate(-79)" y="3.6" stroke-width="0.5">93</text>
<text transform="translate(326.2 70.0) rotate(-88)" y="3.6" fill="#00001c" stroke="#00001c">64</text>
<text transform="translate(327.0 72.1) rotate(-88)" y="3.6" fill="#00001c" stroke="#00001c">66</text>
<text transform="translate(326.2 74.2) rotate(-88)" y="3.6" fill="#00001c" stroke="#00001c">68</text>
<text transform="translate(327.0 76.3) rotate(-88)" y="3.6" fill="#00001c" stroke="#00001c">70</text>
<text transform="translate(326.2 78.4) rotate(-88)" y="3.6" fill="#00001c" stroke="#00001c">72</text>
<text transform="translate(327.0 80.5) rotate(-88)" y="3.6" fill="#00001c" stroke="#00001c">74</text>
<text transform="translate(326.2 82.6) rotate(-88)" y="3.6" fill="#00001c" stroke="#00001c">76</text>
<text transform="translate(327.0 84.7) rotate(-88)" y="3.6" fill="#00001c" stroke="#00001c">78</text>
<text transform="translate(326.2 86.8) rotate(-88)" y="3.6" fill="#00001c" stroke="#00001c">80</text>
<text transform="translate(327.0 88.9) rotate(-88)" y="3.6" fill="#00001c" stroke="#00001c">82</text>
<text transform="translate(327.4 206.0) rotate(-74)" y="3.6" font-size="9" stroke-width="0.5">84</text>
<text transform="translate(327.7 207.5) rotate(-75)" y="3.6" font-size="9" stroke-width="0.5">85</text>
<text transform="translate(328.0 209.0) rotate(-76)" y="3.6" font-size="9" stroke-width="0.5">86</text>
<text transform="translate(328.3 210.5) rotate(-77)" y="3.6" font-size="9" stroke-width="0.5">87</text>
<text transform="translate(328.6 212.0) rotate(-78)" y="3.6" font-size="9" stroke-width="0.5">88</text>
<text transform="translate(328.9 206.0) rotate(-79)" y="3.6" font-size="9" stroke-width="0.5">89</text>
<text transform="translate(329.2 207.5) rotate(-80)" y="3.6" font-size="9" stroke-width="0.5">90</text>
<text transform="translate(329.5 209.0) rotate(-81)" y="3.6" font-size="9" stroke-width="0.5">91</text>
<text transform="translate(329.8 210.5) rotate(-82)" y="3.6" font-size="9" stroke-width="0.5">92</text>
<text transform="translate(330.1 212.0) rotate(-83)" y="3.6" font-size="9" stroke-width="0.5">93</text>
<text transform="translate(344.0 252.9)" y="3.6">94</text>
<text transform="translate(347.6 252.9)" y="3.6">95</text>
<text transform="translate(351.2 252.9)" y="3.6">96</text>
<text transform="translate(354.8 252.9)" y="3.6">93</text>
<text transform="translate(358.4 252.9)" y="3.6">92</text>
<text transform="translate(481.5 250.2)" y="3.6">95</text>
<text transform="translate(489.7 250.2)" y="3.6">94</text>
<text transform="translate(497.9 250.2)" y="3.6">93</text>
</g>
<path d="M320.4 45.7 L324.6 58.3 L369.3 58.3 L373.6 63.2 L383.3 88.8 L393.5 112.6 L393.9 113.6 L399.0 125.0 L403.1 135.3 L404.7 138.4 L409.0 145.4 L410.0 146.5 L415.5 154.9 L417.4 157.0 L420.6 159.0 L421.8 160.4 L426.2 165.6 L431.3 168.6 L432.0 169.2 L436.9 175.6 L437.5 176.0 L442.4 178.5 L447.8 185.7 L450.9 187.7 L453.0 188.3 L453.7 188.9 L458.5 194.1 L459.2 194.4 L464.0 195.9 L469.1 200.3 L469.9 200.7 L475.0 201.3 L477.1 203.3 L480.2 205.9 L481.0 206.0 L485.6 206.3 L486.4 206.8 L490.2 210.0 L491.0 210.6 L491.8 210.7 L496.4 210.5 L497.2 210.9 L501.8 214.2 L502.6 214.4 L507.2 214.1 L508.0 214.4 L512.6 217.7 L513.4 217.8 L518.1 217.5 L518.9 217.9 L520.4 219.0" fill="none" stroke="#000" stroke-width="1.05" stroke-linejoin="round"/>
<path d="M412.5 150.3 L415.5 154.9 L417.4 157.0 L420.6 159.0 L421.8 160.4 L426.2 165.6 L431.3 168.6 L432.0 169.2 L436.9 175.6" fill="none" stroke="#000" stroke-width="1.35" stroke-linecap="round"/>
<path d="M320.4 45.7 L324.6 58.3 L369.3 58.3" fill="none" stroke="#000" stroke-width="1.75" stroke-linejoin="round" stroke-linecap="round"/>
<path d="M369.3 58.3 L373.6 63.2 L383.3 88.8 L393.5 112.6 L393.9 113.6 L399.0 125.0 L403.1 135.3 L404.7 138.4 L409.0 145.4 L410.0 146.5 L413.5 151.8" transform="translate(0.6 -0.1)" fill="none" stroke="#000" stroke-width="1.75" stroke-linejoin="round" stroke-linecap="round"/>
<g font-family="'Liberation Serif', serif" fill="#111">
<rect x="47.4" y="44.6" width="197.0" height="210.2" fill="none" stroke="#111" stroke-width="1.1"/>
<text x="47.4" y="268.7" font-size="10.5" text-anchor="middle">0</text>
<path d="M80.2 254.8 v-2.2 M80.2 44.6 v2.2" stroke="#111" stroke-width="0.8"/>
<text x="80.2" y="268.7" font-size="10.5" text-anchor="middle">2000</text>
<path d="M113.1 254.8 v-2.2 M113.1 44.6 v2.2" stroke="#111" stroke-width="0.8"/>
<text x="113.1" y="268.7" font-size="10.5" text-anchor="middle">4000</text>
<path d="M145.9 254.8 v-2.2 M145.9 44.6 v2.2" stroke="#111" stroke-width="0.8"/>
<text x="145.9" y="268.7" font-size="10.5" text-anchor="middle">6000</text>
<path d="M178.7 254.8 v-2.2 M178.7 44.6 v2.2" stroke="#111" stroke-width="0.8"/>
<text x="178.7" y="268.7" font-size="10.5" text-anchor="middle">8000</text>
<path d="M211.6 254.8 v-2.2 M211.6 44.6 v2.2" stroke="#111" stroke-width="0.8"/>
<text x="211.6" y="268.7" font-size="10.5" text-anchor="middle">10000</text>
<text x="244.4" y="268.7" font-size="10.5" text-anchor="middle">12000</text>
<text x="42.8" y="258.4" font-size="10.5" text-anchor="end">0</text>
<path d="M47.4 212.8 h2.2 M244.4 212.8 h-2.2" stroke="#111" stroke-width="0.8"/>
<text x="42.8" y="216.3" font-size="10.5" text-anchor="end">50</text>
<path d="M47.4 170.7 h2.2 M244.4 170.7 h-2.2" stroke="#111" stroke-width="0.8"/>
<text x="42.8" y="174.3" font-size="10.5" text-anchor="end">100</text>
<path d="M47.4 128.7 h2.2 M244.4 128.7 h-2.2" stroke="#111" stroke-width="0.8"/>
<text x="42.8" y="132.2" font-size="10.5" text-anchor="end">150</text>
<path d="M47.4 86.6 h2.2 M244.4 86.6 h-2.2" stroke="#111" stroke-width="0.8"/>
<text x="42.8" y="90.2" font-size="10.5" text-anchor="end">200</text>
<text x="42.8" y="48.2" font-size="10.5" text-anchor="end">250</text>
<text x="145.9" y="283.6" font-size="12.7" text-anchor="middle">Speed [rpm]</text>
<text transform="translate(20.8 149.7) rotate(-90)" font-size="12.7" text-anchor="middle">Torque [Nm]</text>
<rect x="320.4" y="45.7" width="200.0" height="211.5" fill="none" stroke="#111" stroke-width="1.1"/>
<text x="320.4" y="269.5" font-size="9.3" text-anchor="middle">0</text>
<path d="M353.7 257.2 v-2.2 M353.7 45.7 v2.2" stroke="#111" stroke-width="0.8"/>
<text x="353.7" y="269.5" font-size="9.3" text-anchor="middle">2000</text>
<path d="M387.1 257.2 v-2.2 M387.1 45.7 v2.2" stroke="#111" stroke-width="0.8"/>
<text x="387.1" y="269.5" font-size="9.3" text-anchor="middle">4000</text>
<path d="M420.4 257.2 v-2.2 M420.4 45.7 v2.2" stroke="#111" stroke-width="0.8"/>
<text x="420.4" y="269.5" font-size="9.3" text-anchor="middle">6000</text>
<path d="M453.7 257.2 v-2.2 M453.7 45.7 v2.2" stroke="#111" stroke-width="0.8"/>
<text x="453.7" y="269.5" font-size="9.3" text-anchor="middle">8000</text>
<path d="M487.1 257.2 v-2.2 M487.1 45.7 v2.2" stroke="#111" stroke-width="0.8"/>
<text x="487.1" y="269.5" font-size="9.3" text-anchor="middle">10000</text>
<text x="520.4" y="269.5" font-size="9.3" text-anchor="middle">12000</text>
<text x="316.6" y="260.4" font-size="9.3" text-anchor="end">0</text>
<path d="M320.4 214.9 h2.2 M520.4 214.9 h-2.2" stroke="#111" stroke-width="0.8"/>
<text x="316.6" y="218.1" font-size="9.3" text-anchor="end">50</text>
<path d="M320.4 172.6 h2.2 M520.4 172.6 h-2.2" stroke="#111" stroke-width="0.8"/>
<text x="316.6" y="175.8" font-size="9.3" text-anchor="end">100</text>
<path d="M320.4 130.3 h2.2 M520.4 130.3 h-2.2" stroke="#111" stroke-width="0.8"/>
<text x="316.6" y="133.5" font-size="9.3" text-anchor="end">150</text>
<path d="M320.4 88.0 h2.2 M520.4 88.0 h-2.2" stroke="#111" stroke-width="0.8"/>
<text x="316.6" y="91.2" font-size="9.3" text-anchor="end">200</text>
<text x="316.6" y="48.9" font-size="9.3" text-anchor="end">250</text>
<text x="420.4" y="283.6" font-size="10.9" text-anchor="middle">Speed [rpm]</text>
<text transform="translate(296.8 151.4) rotate(-90)" font-size="10.9" text-anchor="middle">Torque [Nm]</text>
</g>
</svg>
</body></html>
